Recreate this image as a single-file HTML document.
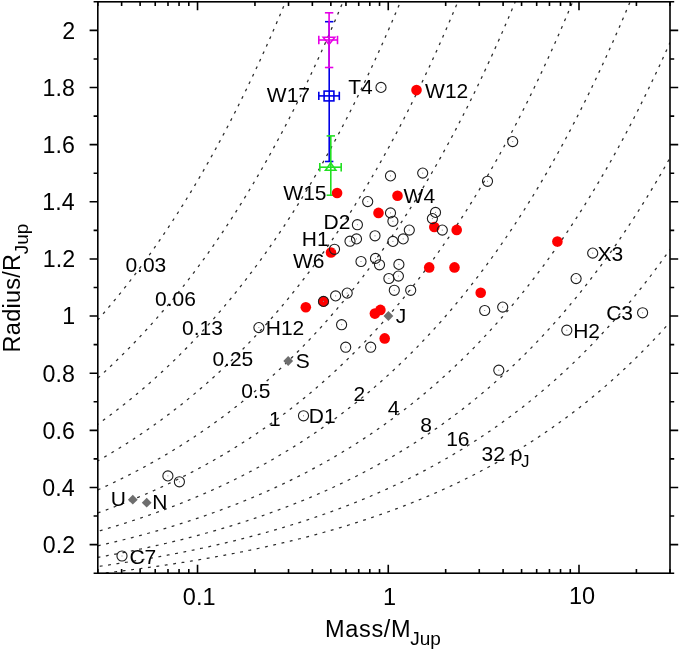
<!DOCTYPE html>
<html><head><meta charset="utf-8"><title>Mass-radius diagram</title><style>html,body{margin:0;padding:0;background:#fff;}svg{display:block;}</style></head><body>
<svg width="680" height="649" viewBox="0 0 680 649" font-family='"Liberation Sans", Arial, Helvetica, sans-serif'>
<rect width="680" height="649" fill="#fff"/>
<defs><clipPath id="pa"><rect x="97.8" y="1.8" width="572.2" height="571.4000000000001"/></clipPath></defs>
<g clip-path="url(#pa)"><g transform="scale(8.50,8.19)" fill="none" stroke="#2c2c2c" stroke-width="0.15" stroke-dasharray="0.34 0.66">
<path stroke-dashoffset="0.035" d="M11.506,39.064 L11.543,39.020 L11.580,38.977 L11.616,38.933 L11.653,38.890 L11.690,38.846 L11.727,38.803 L11.764,38.759 L11.800,38.715 L11.837,38.671 L11.874,38.628 L11.911,38.584 L11.948,38.540 L11.984,38.496 L12.021,38.452 L12.058,38.407 L12.095,38.363 L12.132,38.319 L12.169,38.275 L12.205,38.230 L12.242,38.186 L12.279,38.142 L12.316,38.097 L12.353,38.052 L12.389,38.008 L12.426,37.963 L12.463,37.918 L12.500,37.874 L12.537,37.829 L12.574,37.784 L12.610,37.739 L12.647,37.694 L12.684,37.649 L12.721,37.604 L12.758,37.558 L12.794,37.513 L12.831,37.468 L12.868,37.422 L12.905,37.377 L12.942,37.331 L12.978,37.286 L13.015,37.240 L13.052,37.195 L13.089,37.149 L13.126,37.103 L13.163,37.057 L13.199,37.011 L13.236,36.965 L13.273,36.919 L13.310,36.873 L13.347,36.827 L13.383,36.781 L13.420,36.735 L13.457,36.689 L13.494,36.642 L13.531,36.596 L13.568,36.549 L13.604,36.503 L13.641,36.456 L13.678,36.410 L13.715,36.363 L13.752,36.316 L13.788,36.269 L13.825,36.222 L13.862,36.175 L13.899,36.128 L13.936,36.081 L13.972,36.034 L14.009,35.987 L14.046,35.940 L14.083,35.893 L14.120,35.845 L14.157,35.798 L14.193,35.750 L14.230,35.703 L14.267,35.655 L14.304,35.608 L14.341,35.560 L14.377,35.512 L14.414,35.464 L14.451,35.416 L14.488,35.368 L14.525,35.320 L14.562,35.272 L14.598,35.224 L14.635,35.176 L14.672,35.128 L14.709,35.079 L14.746,35.031 L14.782,34.983 L14.819,34.934 L14.856,34.885 L14.893,34.837 L14.930,34.788 L14.966,34.739 L15.003,34.691 L15.040,34.642 L15.077,34.593 L15.114,34.544 L15.151,34.495 L15.187,34.446 L15.224,34.396 L15.261,34.347 L15.298,34.298 L15.335,34.249 L15.371,34.199 L15.408,34.150 L15.445,34.100 L15.482,34.050 L15.519,34.001 L15.556,33.951 L15.592,33.901 L15.629,33.851 L15.666,33.801 L15.703,33.751 L15.740,33.701 L15.776,33.651 L15.813,33.601 L15.850,33.551 L15.887,33.501 L15.924,33.450 L15.960,33.400 L15.997,33.349 L16.034,33.299 L16.071,33.248 L16.108,33.197 L16.145,33.147 L16.181,33.096 L16.218,33.045 L16.255,32.994 L16.292,32.943 L16.329,32.892 L16.365,32.841 L16.402,32.790 L16.439,32.738 L16.476,32.687 L16.513,32.636 L16.550,32.584 L16.586,32.533 L16.623,32.481 L16.660,32.429 L16.697,32.378 L16.734,32.326 L16.770,32.274 L16.807,32.222 L16.844,32.170 L16.881,32.118 L16.918,32.066 L16.954,32.014 L16.991,31.961 L17.028,31.909 L17.065,31.857 L17.102,31.804 L17.139,31.752 L17.175,31.699 L17.212,31.647 L17.249,31.594 L17.286,31.541 L17.323,31.488 L17.359,31.435 L17.396,31.382 L17.433,31.329 L17.470,31.276 L17.507,31.223 L17.544,31.170 L17.580,31.117 L17.617,31.063 L17.654,31.010 L17.691,30.956 L17.728,30.903 L17.764,30.849 L17.801,30.795 L17.838,30.742 L17.875,30.688 L17.912,30.634 L17.948,30.580 L17.985,30.526 L18.022,30.472 L18.059,30.417 L18.096,30.363 L18.133,30.309 L18.169,30.254 L18.206,30.200 L18.243,30.145 L18.280,30.091 L18.317,30.036 L18.353,29.981 L18.390,29.927 L18.427,29.872 L18.464,29.817 L18.501,29.762 L18.538,29.707 L18.574,29.652 L18.611,29.596 L18.648,29.541 L18.685,29.486 L18.722,29.430 L18.758,29.375 L18.795,29.319 L18.832,29.264 L18.869,29.208 L18.906,29.152 L18.942,29.096 L18.979,29.040 L19.016,28.984 L19.053,28.928 L19.090,28.872 L19.127,28.816 L19.163,28.760 L19.200,28.703 L19.237,28.647 L19.274,28.590 L19.311,28.534 L19.347,28.477 L19.384,28.421 L19.421,28.364 L19.458,28.307 L19.495,28.250 L19.532,28.193 L19.568,28.136 L19.605,28.079 L19.642,28.022 L19.679,27.964 L19.716,27.907 L19.752,27.850 L19.789,27.792 L19.826,27.735 L19.863,27.677 L19.900,27.619 L19.936,27.561 L19.973,27.504 L20.010,27.446 L20.047,27.388 L20.084,27.330 L20.121,27.271 L20.157,27.213 L20.194,27.155 L20.231,27.097 L20.268,27.038 L20.305,26.980 L20.341,26.921 L20.378,26.862 L20.415,26.804 L20.452,26.745 L20.489,26.686 L20.526,26.627 L20.562,26.568 L20.599,26.509 L20.636,26.450 L20.673,26.390 L20.710,26.331 L20.746,26.272 L20.783,26.212 L20.820,26.153 L20.857,26.093 L20.894,26.033 L20.930,25.973 L20.967,25.914 L21.004,25.854 L21.041,25.794 L21.078,25.734 L21.115,25.673 L21.151,25.613 L21.188,25.553 L21.225,25.493 L21.262,25.432 L21.299,25.372 L21.335,25.311 L21.372,25.250 L21.409,25.189 L21.446,25.129 L21.483,25.068 L21.520,25.007 L21.556,24.946 L21.593,24.884 L21.630,24.823 L21.667,24.762 L21.704,24.701 L21.740,24.639 L21.777,24.578 L21.814,24.516 L21.851,24.454 L21.888,24.392 L21.924,24.331 L21.961,24.269 L21.998,24.207 L22.035,24.145 L22.072,24.082 L22.109,24.020 L22.145,23.958 L22.182,23.896 L22.219,23.833 L22.256,23.770 L22.293,23.708 L22.329,23.645 L22.366,23.582 L22.403,23.519 L22.440,23.457 L22.477,23.394 L22.513,23.330 L22.550,23.267 L22.587,23.204 L22.624,23.141 L22.661,23.077 L22.698,23.014 L22.734,22.950 L22.771,22.886 L22.808,22.823 L22.845,22.759 L22.882,22.695 L22.918,22.631 L22.955,22.567 L22.992,22.503 L23.029,22.439 L23.066,22.374 L23.103,22.310 L23.139,22.245 L23.176,22.181 L23.213,22.116 L23.250,22.051 L23.287,21.987 L23.323,21.922 L23.360,21.857 L23.397,21.792 L23.434,21.727 L23.471,21.661 L23.507,21.596 L23.544,21.531 L23.581,21.465 L23.618,21.400 L23.655,21.334 L23.692,21.268 L23.728,21.203 L23.765,21.137 L23.802,21.071 L23.839,21.005 L23.876,20.939 L23.912,20.873 L23.949,20.806 L23.986,20.740 L24.023,20.673 L24.060,20.607 L24.097,20.540 L24.133,20.474 L24.170,20.407 L24.207,20.340 L24.244,20.273 L24.281,20.206 L24.317,20.139 L24.354,20.072 L24.391,20.004 L24.428,19.937 L24.465,19.869 L24.501,19.802 L24.538,19.734 L24.575,19.667 L24.612,19.599 L24.649,19.531 L24.686,19.463 L24.722,19.395 L24.759,19.327 L24.796,19.259 L24.833,19.190 L24.870,19.122 L24.906,19.053 L24.943,18.985 L24.980,18.916 L25.017,18.847 L25.054,18.778 L25.091,18.710 L25.127,18.641 L25.164,18.571 L25.201,18.502 L25.238,18.433 L25.275,18.364 L25.311,18.294 L25.348,18.225 L25.385,18.155 L25.422,18.085 L25.459,18.016 L25.495,17.946 L25.532,17.876 L25.569,17.806 L25.606,17.735 L25.643,17.665 L25.680,17.595 L25.716,17.525 L25.753,17.454 L25.790,17.383 L25.827,17.313 L25.864,17.242 L25.900,17.171 L25.937,17.100 L25.974,17.029 L26.011,16.958 L26.048,16.887 L26.085,16.816 L26.121,16.744 L26.158,16.673 L26.195,16.601 L26.232,16.529 L26.269,16.458 L26.305,16.386 L26.342,16.314 L26.379,16.242 L26.416,16.170 L26.453,16.098 L26.489,16.025 L26.526,15.953 L26.563,15.880 L26.600,15.808 L26.637,15.735 L26.674,15.662 L26.710,15.589 L26.747,15.517 L26.784,15.444 L26.821,15.370 L26.858,15.297 L26.894,15.224 L26.931,15.150 L26.968,15.077 L27.005,15.003 L27.042,14.930 L27.079,14.856 L27.115,14.782 L27.152,14.708 L27.189,14.634 L27.226,14.560 L27.263,14.486 L27.299,14.411 L27.336,14.337 L27.373,14.262 L27.410,14.188 L27.447,14.113 L27.483,14.038 L27.520,13.963 L27.557,13.888 L27.594,13.813 L27.631,13.738 L27.668,13.663 L27.704,13.588 L27.741,13.512 L27.778,13.437 L27.815,13.361 L27.852,13.285 L27.888,13.209 L27.925,13.133 L27.962,13.057 L27.999,12.981 L28.036,12.905 L28.073,12.829 L28.109,12.752 L28.146,12.676 L28.183,12.599 L28.220,12.522 L28.257,12.446 L28.293,12.369 L28.330,12.292 L28.367,12.215 L28.404,12.137 L28.441,12.060 L28.477,11.983 L28.514,11.905 L28.551,11.828 L28.588,11.750 L28.625,11.672 L28.662,11.594 L28.698,11.516 L28.735,11.438 L28.772,11.360 L28.809,11.282 L28.846,11.203 L28.882,11.125 L28.919,11.046 L28.956,10.968 L28.993,10.889 L29.030,10.810 L29.067,10.731 L29.103,10.652 L29.140,10.573 L29.177,10.494 L29.214,10.414 L29.251,10.335 L29.287,10.255 L29.324,10.176 L29.361,10.096 L29.398,10.016 L29.435,9.936 L29.471,9.856 L29.508,9.776 L29.545,9.696 L29.582,9.615 L29.619,9.535 L29.656,9.454 L29.692,9.374 L29.729,9.293 L29.766,9.212 L29.803,9.131 L29.840,9.050 L29.876,8.969 L29.913,8.887 L29.950,8.806 L29.987,8.724 L30.024,8.643 L30.061,8.561 L30.097,8.479 L30.134,8.398 L30.171,8.316 L30.208,8.233 L30.245,8.151 L30.281,8.069 L30.318,7.986 L30.355,7.904 L30.392,7.821 L30.429,7.739 L30.465,7.656 L30.502,7.573 L30.539,7.490 L30.576,7.407 L30.613,7.323 L30.650,7.240 L30.686,7.157 L30.723,7.073 L30.760,6.989 L30.797,6.906 L30.834,6.822 L30.870,6.738 L30.907,6.654 L30.944,6.569 L30.981,6.485 L31.018,6.401 L31.055,6.316 L31.091,6.232 L31.128,6.147 L31.165,6.062 L31.202,5.977 L31.239,5.892 L31.275,5.807 L31.312,5.722 L31.349,5.636 L31.386,5.551 L31.423,5.465 L31.459,5.379 L31.496,5.294 L31.533,5.208 L31.570,5.122 L31.607,5.036 L31.644,4.949 L31.680,4.863 L31.717,4.777 L31.754,4.690 L31.791,4.603 L31.828,4.516 L31.864,4.430 L31.901,4.343 L31.938,4.255 L31.975,4.168 L32.012,4.081 L32.049,3.994 L32.085,3.906 L32.122,3.818 L32.159,3.731 L32.196,3.643 L32.233,3.555 L32.269,3.467 L32.306,3.378 L32.343,3.290 L32.380,3.202 L32.417,3.113 L32.453,3.024 L32.490,2.936 L32.527,2.847 L32.564,2.758 L32.601,2.669 L32.638,2.579 L32.674,2.490 L32.711,2.401 L32.748,2.311 L32.785,2.221 L32.822,2.132 L32.858,2.042 L32.895,1.952 L32.932,1.862 L32.969,1.771 L33.006,1.681 L33.043,1.591 L33.079,1.500 L33.116,1.409 L33.153,1.318 L33.190,1.228 L33.227,1.136 L33.263,1.045 L33.300,0.954 L33.337,0.863 L33.374,0.771 L33.411,0.680 L33.447,0.588 L33.484,0.496 L33.521,0.404 L33.558,0.312 L33.595,0.220"/>
<path stroke-dashoffset="0.995" d="M11.506,46.163 L11.554,46.118 L11.602,46.073 L11.650,46.028 L11.698,45.983 L11.746,45.937 L11.794,45.892 L11.842,45.847 L11.890,45.801 L11.939,45.756 L11.987,45.710 L12.035,45.664 L12.083,45.619 L12.131,45.573 L12.179,45.527 L12.227,45.481 L12.275,45.435 L12.323,45.389 L12.371,45.342 L12.419,45.296 L12.467,45.250 L12.515,45.203 L12.563,45.157 L12.612,45.110 L12.660,45.064 L12.708,45.017 L12.756,44.970 L12.804,44.923 L12.852,44.876 L12.900,44.829 L12.948,44.782 L12.996,44.735 L13.044,44.687 L13.092,44.640 L13.140,44.592 L13.188,44.545 L13.237,44.497 L13.285,44.450 L13.333,44.402 L13.381,44.354 L13.429,44.306 L13.477,44.258 L13.525,44.210 L13.573,44.162 L13.621,44.114 L13.669,44.065 L13.717,44.017 L13.765,43.968 L13.813,43.920 L13.861,43.871 L13.910,43.822 L13.958,43.774 L14.006,43.725 L14.054,43.676 L14.102,43.627 L14.150,43.578 L14.198,43.528 L14.246,43.479 L14.294,43.430 L14.342,43.380 L14.390,43.331 L14.438,43.281 L14.486,43.232 L14.534,43.182 L14.583,43.132 L14.631,43.082 L14.679,43.032 L14.727,42.982 L14.775,42.932 L14.823,42.881 L14.871,42.831 L14.919,42.781 L14.967,42.730 L15.015,42.679 L15.063,42.629 L15.111,42.578 L15.159,42.527 L15.207,42.476 L15.256,42.425 L15.304,42.374 L15.352,42.323 L15.400,42.272 L15.448,42.220 L15.496,42.169 L15.544,42.117 L15.592,42.066 L15.640,42.014 L15.688,41.962 L15.736,41.910 L15.784,41.859 L15.832,41.806 L15.881,41.754 L15.929,41.702 L15.977,41.650 L16.025,41.597 L16.073,41.545 L16.121,41.492 L16.169,41.440 L16.217,41.387 L16.265,41.334 L16.313,41.281 L16.361,41.228 L16.409,41.175 L16.457,41.122 L16.505,41.069 L16.554,41.016 L16.602,40.962 L16.650,40.909 L16.698,40.855 L16.746,40.801 L16.794,40.748 L16.842,40.694 L16.890,40.640 L16.938,40.586 L16.986,40.532 L17.034,40.477 L17.082,40.423 L17.130,40.369 L17.178,40.314 L17.227,40.260 L17.275,40.205 L17.323,40.150 L17.371,40.095 L17.419,40.041 L17.467,39.985 L17.515,39.930 L17.563,39.875 L17.611,39.820 L17.659,39.764 L17.707,39.709 L17.755,39.653 L17.803,39.598 L17.852,39.542 L17.900,39.486 L17.948,39.430 L17.996,39.374 L18.044,39.318 L18.092,39.262 L18.140,39.206 L18.188,39.149 L18.236,39.093 L18.284,39.036 L18.332,38.979 L18.380,38.923 L18.428,38.866 L18.476,38.809 L18.525,38.752 L18.573,38.695 L18.621,38.637 L18.669,38.580 L18.717,38.523 L18.765,38.465 L18.813,38.407 L18.861,38.350 L18.909,38.292 L18.957,38.234 L19.005,38.176 L19.053,38.118 L19.101,38.060 L19.149,38.002 L19.198,37.943 L19.246,37.885 L19.294,37.826 L19.342,37.767 L19.390,37.709 L19.438,37.650 L19.486,37.591 L19.534,37.532 L19.582,37.473 L19.630,37.413 L19.678,37.354 L19.726,37.295 L19.774,37.235 L19.822,37.175 L19.871,37.116 L19.919,37.056 L19.967,36.996 L20.015,36.936 L20.063,36.876 L20.111,36.815 L20.159,36.755 L20.207,36.695 L20.255,36.634 L20.303,36.574 L20.351,36.513 L20.399,36.452 L20.447,36.391 L20.496,36.330 L20.544,36.269 L20.592,36.208 L20.640,36.146 L20.688,36.085 L20.736,36.023 L20.784,35.962 L20.832,35.900 L20.880,35.838 L20.928,35.776 L20.976,35.714 L21.024,35.652 L21.072,35.590 L21.120,35.527 L21.169,35.465 L21.217,35.402 L21.265,35.340 L21.313,35.277 L21.361,35.214 L21.409,35.151 L21.457,35.088 L21.505,35.025 L21.553,34.962 L21.601,34.898 L21.649,34.835 L21.697,34.771 L21.745,34.708 L21.793,34.644 L21.842,34.580 L21.890,34.516 L21.938,34.452 L21.986,34.387 L22.034,34.323 L22.082,34.259 L22.130,34.194 L22.178,34.130 L22.226,34.065 L22.274,34.000 L22.322,33.935 L22.370,33.870 L22.418,33.805 L22.467,33.739 L22.515,33.674 L22.563,33.608 L22.611,33.543 L22.659,33.477 L22.707,33.411 L22.755,33.345 L22.803,33.279 L22.851,33.213 L22.899,33.147 L22.947,33.081 L22.995,33.014 L23.043,32.948 L23.091,32.881 L23.140,32.814 L23.188,32.747 L23.236,32.680 L23.284,32.613 L23.332,32.546 L23.380,32.478 L23.428,32.411 L23.476,32.343 L23.524,32.276 L23.572,32.208 L23.620,32.140 L23.668,32.072 L23.716,32.004 L23.764,31.935 L23.813,31.867 L23.861,31.799 L23.909,31.730 L23.957,31.661 L24.005,31.593 L24.053,31.524 L24.101,31.455 L24.149,31.385 L24.197,31.316 L24.245,31.247 L24.293,31.177 L24.341,31.108 L24.389,31.038 L24.437,30.968 L24.486,30.898 L24.534,30.828 L24.582,30.758 L24.630,30.688 L24.678,30.617 L24.726,30.547 L24.774,30.476 L24.822,30.405 L24.870,30.334 L24.918,30.263 L24.966,30.192 L25.014,30.121 L25.062,30.050 L25.111,29.978 L25.159,29.907 L25.207,29.835 L25.255,29.763 L25.303,29.691 L25.351,29.619 L25.399,29.547 L25.447,29.475 L25.495,29.402 L25.543,29.330 L25.591,29.257 L25.639,29.184 L25.687,29.111 L25.735,29.038 L25.784,28.965 L25.832,28.892 L25.880,28.819 L25.928,28.745 L25.976,28.671 L26.024,28.598 L26.072,28.524 L26.120,28.450 L26.168,28.376 L26.216,28.302 L26.264,28.227 L26.312,28.153 L26.360,28.078 L26.408,28.003 L26.457,27.929 L26.505,27.854 L26.553,27.779 L26.601,27.703 L26.649,27.628 L26.697,27.553 L26.745,27.477 L26.793,27.401 L26.841,27.326 L26.889,27.250 L26.937,27.174 L26.985,27.097 L27.033,27.021 L27.082,26.945 L27.130,26.868 L27.178,26.791 L27.226,26.714 L27.274,26.637 L27.322,26.560 L27.370,26.483 L27.418,26.406 L27.466,26.328 L27.514,26.251 L27.562,26.173 L27.610,26.095 L27.658,26.017 L27.706,25.939 L27.755,25.861 L27.803,25.783 L27.851,25.704 L27.899,25.625 L27.947,25.547 L27.995,25.468 L28.043,25.389 L28.091,25.310 L28.139,25.230 L28.187,25.151 L28.235,25.072 L28.283,24.992 L28.331,24.912 L28.379,24.832 L28.428,24.752 L28.476,24.672 L28.524,24.592 L28.572,24.511 L28.620,24.431 L28.668,24.350 L28.716,24.269 L28.764,24.188 L28.812,24.107 L28.860,24.026 L28.908,23.944 L28.956,23.863 L29.004,23.781 L29.052,23.699 L29.101,23.617 L29.149,23.535 L29.197,23.453 L29.245,23.371 L29.293,23.288 L29.341,23.206 L29.389,23.123 L29.437,23.040 L29.485,22.957 L29.533,22.874 L29.581,22.791 L29.629,22.707 L29.677,22.624 L29.726,22.540 L29.774,22.456 L29.822,22.372 L29.870,22.288 L29.918,22.204 L29.966,22.120 L30.014,22.035 L30.062,21.950 L30.110,21.866 L30.158,21.781 L30.206,21.696 L30.254,21.610 L30.302,21.525 L30.350,21.440 L30.399,21.354 L30.447,21.268 L30.495,21.182 L30.543,21.096 L30.591,21.010 L30.639,20.924 L30.687,20.837 L30.735,20.751 L30.783,20.664 L30.831,20.577 L30.879,20.490 L30.927,20.403 L30.975,20.315 L31.023,20.228 L31.072,20.140 L31.120,20.052 L31.168,19.965 L31.216,19.876 L31.264,19.788 L31.312,19.700 L31.360,19.611 L31.408,19.523 L31.456,19.434 L31.504,19.345 L31.552,19.256 L31.600,19.167 L31.648,19.077 L31.697,18.988 L31.745,18.898 L31.793,18.808 L31.841,18.718 L31.889,18.628 L31.937,18.538 L31.985,18.448 L32.033,18.357 L32.081,18.266 L32.129,18.175 L32.177,18.084 L32.225,17.993 L32.273,17.902 L32.321,17.811 L32.370,17.719 L32.418,17.627 L32.466,17.535 L32.514,17.443 L32.562,17.351 L32.610,17.259 L32.658,17.166 L32.706,17.073 L32.754,16.981 L32.802,16.888 L32.850,16.794 L32.898,16.701 L32.946,16.608 L32.994,16.514 L33.043,16.420 L33.091,16.327 L33.139,16.233 L33.187,16.138 L33.235,16.044 L33.283,15.949 L33.331,15.855 L33.379,15.760 L33.427,15.665 L33.475,15.570 L33.523,15.475 L33.571,15.379 L33.619,15.283 L33.667,15.188 L33.716,15.092 L33.764,14.996 L33.812,14.899 L33.860,14.803 L33.908,14.706 L33.956,14.610 L34.004,14.513 L34.052,14.416 L34.100,14.319 L34.148,14.221 L34.196,14.124 L34.244,14.026 L34.292,13.928 L34.341,13.830 L34.389,13.732 L34.437,13.634 L34.485,13.535 L34.533,13.437 L34.581,13.338 L34.629,13.239 L34.677,13.140 L34.725,13.040 L34.773,12.941 L34.821,12.841 L34.869,12.742 L34.917,12.642 L34.965,12.542 L35.014,12.441 L35.062,12.341 L35.110,12.240 L35.158,12.139 L35.206,12.039 L35.254,11.937 L35.302,11.836 L35.350,11.735 L35.398,11.633 L35.446,11.531 L35.494,11.429 L35.542,11.327 L35.590,11.225 L35.638,11.123 L35.687,11.020 L35.735,10.917 L35.783,10.814 L35.831,10.711 L35.879,10.608 L35.927,10.504 L35.975,10.401 L36.023,10.297 L36.071,10.193 L36.119,10.089 L36.167,9.984 L36.215,9.880 L36.263,9.775 L36.311,9.670 L36.360,9.565 L36.408,9.460 L36.456,9.355 L36.504,9.249 L36.552,9.144 L36.600,9.038 L36.648,8.932 L36.696,8.826 L36.744,8.719 L36.792,8.613 L36.840,8.506 L36.888,8.399 L36.936,8.292 L36.985,8.185 L37.033,8.077 L37.081,7.970 L37.129,7.862 L37.177,7.754 L37.225,7.646 L37.273,7.537 L37.321,7.429 L37.369,7.320 L37.417,7.211 L37.465,7.102 L37.513,6.993 L37.561,6.883 L37.609,6.774 L37.658,6.664 L37.706,6.554 L37.754,6.444 L37.802,6.334 L37.850,6.223 L37.898,6.113 L37.946,6.002 L37.994,5.891 L38.042,5.779 L38.090,5.668 L38.138,5.556 L38.186,5.445 L38.234,5.333 L38.282,5.221 L38.331,5.108 L38.379,4.996 L38.427,4.883 L38.475,4.770 L38.523,4.657 L38.571,4.544 L38.619,4.430 L38.667,4.317 L38.715,4.203 L38.763,4.089 L38.811,3.975 L38.859,3.860 L38.907,3.746 L38.956,3.631 L39.004,3.516 L39.052,3.401 L39.100,3.286 L39.148,3.170 L39.196,3.054 L39.244,2.939 L39.292,2.822 L39.340,2.706 L39.388,2.590 L39.436,2.473 L39.484,2.356 L39.532,2.239 L39.580,2.122 L39.629,2.005 L39.677,1.887 L39.725,1.769 L39.773,1.651 L39.821,1.533 L39.869,1.415 L39.917,1.296 L39.965,1.177 L40.013,1.058 L40.061,0.939 L40.109,0.820 L40.157,0.700 L40.205,0.580 L40.253,0.460 L40.302,0.340 L40.350,0.220"/>
<path stroke-dashoffset="0.255" d="M11.506,51.798 L11.565,51.754 L11.625,51.709 L11.684,51.665 L11.743,51.621 L11.803,51.577 L11.862,51.532 L11.921,51.487 L11.981,51.443 L12.040,51.398 L12.099,51.353 L12.159,51.308 L12.218,51.263 L12.277,51.218 L12.337,51.173 L12.396,51.128 L12.455,51.082 L12.515,51.037 L12.574,50.991 L12.633,50.945 L12.693,50.900 L12.752,50.854 L12.811,50.808 L12.870,50.762 L12.930,50.716 L12.989,50.669 L13.048,50.623 L13.108,50.577 L13.167,50.530 L13.226,50.484 L13.286,50.437 L13.345,50.390 L13.404,50.343 L13.464,50.296 L13.523,50.249 L13.582,50.202 L13.642,50.155 L13.701,50.107 L13.760,50.060 L13.820,50.012 L13.879,49.964 L13.938,49.917 L13.998,49.869 L14.057,49.821 L14.116,49.773 L14.176,49.725 L14.235,49.676 L14.294,49.628 L14.354,49.580 L14.413,49.531 L14.472,49.482 L14.532,49.434 L14.591,49.385 L14.650,49.336 L14.710,49.287 L14.769,49.238 L14.828,49.189 L14.888,49.139 L14.947,49.090 L15.006,49.040 L15.066,48.991 L15.125,48.941 L15.184,48.891 L15.244,48.841 L15.303,48.791 L15.362,48.741 L15.422,48.691 L15.481,48.640 L15.540,48.590 L15.600,48.539 L15.659,48.489 L15.718,48.438 L15.778,48.387 L15.837,48.336 L15.896,48.285 L15.956,48.234 L16.015,48.182 L16.074,48.131 L16.134,48.080 L16.193,48.028 L16.252,47.976 L16.312,47.924 L16.371,47.873 L16.430,47.821 L16.490,47.768 L16.549,47.716 L16.608,47.664 L16.668,47.611 L16.727,47.559 L16.786,47.506 L16.846,47.453 L16.905,47.401 L16.964,47.348 L17.024,47.295 L17.083,47.241 L17.142,47.188 L17.202,47.135 L17.261,47.081 L17.320,47.028 L17.380,46.974 L17.439,46.920 L17.498,46.866 L17.558,46.812 L17.617,46.758 L17.676,46.704 L17.736,46.649 L17.795,46.595 L17.854,46.540 L17.914,46.485 L17.973,46.430 L18.032,46.376 L18.092,46.320 L18.151,46.265 L18.210,46.210 L18.270,46.155 L18.329,46.099 L18.388,46.044 L18.448,45.988 L18.507,45.932 L18.566,45.876 L18.626,45.820 L18.685,45.764 L18.744,45.707 L18.804,45.651 L18.863,45.595 L18.922,45.538 L18.982,45.481 L19.041,45.424 L19.100,45.367 L19.160,45.310 L19.219,45.253 L19.278,45.196 L19.338,45.138 L19.397,45.081 L19.456,45.023 L19.516,44.965 L19.575,44.907 L19.634,44.849 L19.694,44.791 L19.753,44.733 L19.812,44.674 L19.872,44.616 L19.931,44.557 L19.990,44.498 L20.050,44.440 L20.109,44.381 L20.168,44.321 L20.228,44.262 L20.287,44.203 L20.346,44.143 L20.406,44.084 L20.465,44.024 L20.524,43.964 L20.584,43.904 L20.643,43.844 L20.702,43.784 L20.762,43.724 L20.821,43.663 L20.880,43.603 L20.940,43.542 L20.999,43.481 L21.058,43.420 L21.118,43.359 L21.177,43.298 L21.236,43.237 L21.296,43.175 L21.355,43.114 L21.414,43.052 L21.473,42.990 L21.533,42.928 L21.592,42.866 L21.651,42.804 L21.711,42.742 L21.770,42.679 L21.829,42.617 L21.889,42.554 L21.948,42.491 L22.007,42.428 L22.067,42.365 L22.126,42.302 L22.185,42.239 L22.245,42.175 L22.304,42.112 L22.363,42.048 L22.423,41.984 L22.482,41.920 L22.541,41.856 L22.601,41.792 L22.660,41.728 L22.719,41.663 L22.779,41.598 L22.838,41.534 L22.897,41.469 L22.957,41.404 L23.016,41.339 L23.075,41.273 L23.135,41.208 L23.194,41.142 L23.253,41.077 L23.313,41.011 L23.372,40.945 L23.431,40.879 L23.491,40.813 L23.550,40.746 L23.609,40.680 L23.669,40.613 L23.728,40.546 L23.787,40.479 L23.847,40.412 L23.906,40.345 L23.965,40.278 L24.025,40.210 L24.084,40.143 L24.143,40.075 L24.203,40.007 L24.262,39.939 L24.321,39.871 L24.381,39.803 L24.440,39.735 L24.499,39.666 L24.559,39.597 L24.618,39.528 L24.677,39.460 L24.737,39.390 L24.796,39.321 L24.855,39.252 L24.915,39.182 L24.974,39.113 L25.033,39.043 L25.093,38.973 L25.152,38.903 L25.211,38.833 L25.271,38.762 L25.330,38.692 L25.389,38.621 L25.449,38.550 L25.508,38.479 L25.567,38.408 L25.627,38.337 L25.686,38.265 L25.745,38.194 L25.805,38.122 L25.864,38.050 L25.923,37.978 L25.983,37.906 L26.042,37.834 L26.101,37.762 L26.161,37.689 L26.220,37.616 L26.279,37.544 L26.339,37.471 L26.398,37.397 L26.457,37.324 L26.517,37.251 L26.576,37.177 L26.635,37.103 L26.695,37.030 L26.754,36.955 L26.813,36.881 L26.873,36.807 L26.932,36.732 L26.991,36.658 L27.051,36.583 L27.110,36.508 L27.169,36.433 L27.229,36.358 L27.288,36.282 L27.347,36.207 L27.407,36.131 L27.466,36.055 L27.525,35.979 L27.585,35.903 L27.644,35.827 L27.703,35.750 L27.763,35.674 L27.822,35.597 L27.881,35.520 L27.941,35.443 L28.000,35.365 L28.059,35.288 L28.119,35.210 L28.178,35.133 L28.237,35.055 L28.297,34.977 L28.356,34.899 L28.415,34.820 L28.475,34.742 L28.534,34.663 L28.593,34.584 L28.653,34.505 L28.712,34.426 L28.771,34.347 L28.831,34.267 L28.890,34.187 L28.949,34.108 L29.009,34.028 L29.068,33.948 L29.127,33.867 L29.187,33.787 L29.246,33.706 L29.305,33.625 L29.365,33.544 L29.424,33.463 L29.483,33.382 L29.543,33.301 L29.602,33.219 L29.661,33.137 L29.721,33.055 L29.780,32.973 L29.839,32.891 L29.899,32.808 L29.958,32.726 L30.017,32.643 L30.076,32.560 L30.136,32.477 L30.195,32.394 L30.254,32.310 L30.314,32.226 L30.373,32.143 L30.432,32.059 L30.492,31.975 L30.551,31.890 L30.610,31.806 L30.670,31.721 L30.729,31.636 L30.788,31.551 L30.848,31.466 L30.907,31.381 L30.966,31.295 L31.026,31.210 L31.085,31.124 L31.144,31.038 L31.204,30.951 L31.263,30.865 L31.322,30.779 L31.382,30.692 L31.441,30.605 L31.500,30.518 L31.560,30.431 L31.619,30.343 L31.678,30.255 L31.738,30.168 L31.797,30.080 L31.856,29.992 L31.916,29.903 L31.975,29.815 L32.034,29.726 L32.094,29.637 L32.153,29.548 L32.212,29.459 L32.272,29.369 L32.331,29.280 L32.390,29.190 L32.450,29.100 L32.509,29.010 L32.568,28.920 L32.628,28.829 L32.687,28.738 L32.746,28.647 L32.806,28.556 L32.865,28.465 L32.924,28.374 L32.984,28.282 L33.043,28.190 L33.102,28.098 L33.162,28.006 L33.221,27.914 L33.280,27.821 L33.340,27.728 L33.399,27.635 L33.458,27.542 L33.518,27.449 L33.577,27.356 L33.636,27.262 L33.696,27.168 L33.755,27.074 L33.814,26.980 L33.874,26.885 L33.933,26.790 L33.992,26.696 L34.052,26.601 L34.111,26.505 L34.170,26.410 L34.230,26.314 L34.289,26.219 L34.348,26.123 L34.408,26.026 L34.467,25.930 L34.526,25.833 L34.586,25.737 L34.645,25.640 L34.704,25.542 L34.764,25.445 L34.823,25.347 L34.882,25.250 L34.942,25.152 L35.001,25.054 L35.060,24.955 L35.120,24.857 L35.179,24.758 L35.238,24.659 L35.298,24.560 L35.357,24.460 L35.416,24.361 L35.476,24.261 L35.535,24.161 L35.594,24.061 L35.654,23.960 L35.713,23.860 L35.772,23.759 L35.832,23.658 L35.891,23.557 L35.950,23.455 L36.010,23.354 L36.069,23.252 L36.128,23.150 L36.188,23.048 L36.247,22.945 L36.306,22.843 L36.366,22.740 L36.425,22.637 L36.484,22.533 L36.544,22.430 L36.603,22.326 L36.662,22.222 L36.722,22.118 L36.781,22.014 L36.840,21.909 L36.900,21.805 L36.959,21.700 L37.018,21.594 L37.078,21.489 L37.137,21.383 L37.196,21.278 L37.256,21.172 L37.315,21.065 L37.374,20.959 L37.434,20.852 L37.493,20.745 L37.552,20.638 L37.612,20.531 L37.671,20.423 L37.730,20.315 L37.790,20.207 L37.849,20.099 L37.908,19.991 L37.968,19.882 L38.027,19.773 L38.086,19.664 L38.146,19.555 L38.205,19.445 L38.264,19.336 L38.324,19.226 L38.383,19.115 L38.442,19.005 L38.502,18.894 L38.561,18.783 L38.620,18.672 L38.679,18.561 L38.739,18.449 L38.798,18.338 L38.857,18.226 L38.917,18.113 L38.976,18.001 L39.035,17.888 L39.095,17.775 L39.154,17.662 L39.213,17.549 L39.273,17.435 L39.332,17.321 L39.391,17.207 L39.451,17.093 L39.510,16.978 L39.569,16.864 L39.629,16.749 L39.688,16.633 L39.747,16.518 L39.807,16.402 L39.866,16.286 L39.925,16.170 L39.985,16.054 L40.044,15.937 L40.103,15.820 L40.163,15.703 L40.222,15.586 L40.281,15.468 L40.341,15.350 L40.400,15.232 L40.459,15.114 L40.519,14.995 L40.578,14.876 L40.637,14.757 L40.697,14.638 L40.756,14.519 L40.815,14.399 L40.875,14.279 L40.934,14.158 L40.993,14.038 L41.053,13.917 L41.112,13.796 L41.171,13.675 L41.231,13.554 L41.290,13.432 L41.349,13.310 L41.409,13.188 L41.468,13.065 L41.527,12.942 L41.587,12.819 L41.646,12.696 L41.705,12.573 L41.765,12.449 L41.824,12.325 L41.883,12.201 L41.943,12.076 L42.002,11.952 L42.061,11.827 L42.121,11.701 L42.180,11.576 L42.239,11.450 L42.299,11.324 L42.358,11.198 L42.417,11.071 L42.477,10.945 L42.536,10.818 L42.595,10.690 L42.655,10.563 L42.714,10.435 L42.773,10.307 L42.833,10.179 L42.892,10.050 L42.951,9.921 L43.011,9.792 L43.070,9.663 L43.129,9.533 L43.189,9.403 L43.248,9.273 L43.307,9.142 L43.367,9.012 L43.426,8.881 L43.485,8.750 L43.545,8.618 L43.604,8.486 L43.663,8.354 L43.723,8.222 L43.782,8.089 L43.841,7.957 L43.901,7.824 L43.960,7.690 L44.019,7.557 L44.079,7.423 L44.138,7.288 L44.197,7.154 L44.257,7.019 L44.316,6.884 L44.375,6.749 L44.435,6.613 L44.494,6.478 L44.553,6.341 L44.613,6.205 L44.672,6.068 L44.731,5.931 L44.791,5.794 L44.850,5.657 L44.909,5.519 L44.969,5.381 L45.028,5.243 L45.087,5.104 L45.147,4.965 L45.206,4.826 L45.265,4.686 L45.325,4.547 L45.384,4.407 L45.443,4.266 L45.503,4.126 L45.562,3.985 L45.621,3.844 L45.681,3.702 L45.740,3.561 L45.799,3.419 L45.859,3.276 L45.918,3.134 L45.977,2.991 L46.037,2.847 L46.096,2.704 L46.155,2.560 L46.215,2.416 L46.274,2.272 L46.333,2.127 L46.393,1.982 L46.452,1.837 L46.511,1.691 L46.571,1.546 L46.630,1.400 L46.689,1.253 L46.749,1.106 L46.808,0.959 L46.867,0.812 L46.927,0.664 L46.986,0.517 L47.045,0.368 L47.105,0.220"/>
<path stroke-dashoffset="0.120" d="M11.506,56.270 L11.576,56.228 L11.647,56.187 L11.718,56.145 L11.788,56.103 L11.859,56.061 L11.929,56.019 L12.000,55.977 L12.071,55.934 L12.141,55.892 L12.212,55.849 L12.282,55.807 L12.353,55.764 L12.424,55.721 L12.494,55.678 L12.565,55.635 L12.635,55.592 L12.706,55.549 L12.776,55.506 L12.847,55.462 L12.918,55.419 L12.988,55.375 L13.059,55.331 L13.129,55.287 L13.200,55.243 L13.271,55.199 L13.341,55.155 L13.412,55.111 L13.482,55.066 L13.553,55.022 L13.624,54.977 L13.694,54.933 L13.765,54.888 L13.835,54.843 L13.906,54.798 L13.977,54.753 L14.047,54.707 L14.118,54.662 L14.188,54.617 L14.259,54.571 L14.329,54.525 L14.400,54.479 L14.471,54.434 L14.541,54.387 L14.612,54.341 L14.682,54.295 L14.753,54.249 L14.824,54.202 L14.894,54.156 L14.965,54.109 L15.035,54.062 L15.106,54.015 L15.177,53.968 L15.247,53.921 L15.318,53.874 L15.388,53.826 L15.459,53.779 L15.529,53.731 L15.600,53.683 L15.671,53.636 L15.741,53.588 L15.812,53.540 L15.882,53.491 L15.953,53.443 L16.024,53.395 L16.094,53.346 L16.165,53.297 L16.235,53.249 L16.306,53.200 L16.377,53.151 L16.447,53.102 L16.518,53.052 L16.588,53.003 L16.659,52.953 L16.729,52.904 L16.800,52.854 L16.871,52.804 L16.941,52.754 L17.012,52.704 L17.082,52.654 L17.153,52.604 L17.224,52.553 L17.294,52.503 L17.365,52.452 L17.435,52.401 L17.506,52.350 L17.577,52.299 L17.647,52.248 L17.718,52.197 L17.788,52.145 L17.859,52.094 L17.929,52.042 L18.000,51.990 L18.071,51.938 L18.141,51.886 L18.212,51.834 L18.282,51.782 L18.353,51.729 L18.424,51.677 L18.494,51.624 L18.565,51.571 L18.635,51.518 L18.706,51.465 L18.777,51.412 L18.847,51.358 L18.918,51.305 L18.988,51.251 L19.059,51.198 L19.130,51.144 L19.200,51.090 L19.271,51.036 L19.341,50.981 L19.412,50.927 L19.482,50.873 L19.553,50.818 L19.624,50.763 L19.694,50.708 L19.765,50.653 L19.835,50.598 L19.906,50.543 L19.977,50.487 L20.047,50.432 L20.118,50.376 L20.188,50.320 L20.259,50.264 L20.330,50.208 L20.400,50.152 L20.471,50.095 L20.541,50.039 L20.612,49.982 L20.682,49.925 L20.753,49.869 L20.824,49.811 L20.894,49.754 L20.965,49.697 L21.035,49.639 L21.106,49.582 L21.177,49.524 L21.247,49.466 L21.318,49.408 L21.388,49.350 L21.459,49.292 L21.530,49.233 L21.600,49.175 L21.671,49.116 L21.741,49.057 L21.812,48.998 L21.882,48.939 L21.953,48.879 L22.024,48.820 L22.094,48.760 L22.165,48.701 L22.235,48.641 L22.306,48.581 L22.377,48.520 L22.447,48.460 L22.518,48.400 L22.588,48.339 L22.659,48.278 L22.730,48.217 L22.800,48.156 L22.871,48.095 L22.941,48.034 L23.012,47.972 L23.083,47.911 L23.153,47.849 L23.224,47.787 L23.294,47.725 L23.365,47.662 L23.435,47.600 L23.506,47.537 L23.577,47.475 L23.647,47.412 L23.718,47.349 L23.788,47.286 L23.859,47.222 L23.930,47.159 L24.000,47.095 L24.071,47.032 L24.141,46.968 L24.212,46.904 L24.283,46.839 L24.353,46.775 L24.424,46.710 L24.494,46.646 L24.565,46.581 L24.635,46.516 L24.706,46.451 L24.777,46.385 L24.847,46.320 L24.918,46.254 L24.988,46.188 L25.059,46.122 L25.130,46.056 L25.200,45.990 L25.271,45.924 L25.341,45.857 L25.412,45.790 L25.483,45.723 L25.553,45.656 L25.624,45.589 L25.694,45.521 L25.765,45.454 L25.835,45.386 L25.906,45.318 L25.977,45.250 L26.047,45.182 L26.118,45.114 L26.188,45.045 L26.259,44.976 L26.330,44.907 L26.400,44.838 L26.471,44.769 L26.541,44.700 L26.612,44.630 L26.683,44.560 L26.753,44.490 L26.824,44.420 L26.894,44.350 L26.965,44.280 L27.035,44.209 L27.106,44.138 L27.177,44.068 L27.247,43.996 L27.318,43.925 L27.388,43.854 L27.459,43.782 L27.530,43.710 L27.600,43.638 L27.671,43.566 L27.741,43.494 L27.812,43.421 L27.883,43.349 L27.953,43.276 L28.024,43.203 L28.094,43.130 L28.165,43.056 L28.236,42.983 L28.306,42.909 L28.377,42.835 L28.447,42.761 L28.518,42.687 L28.588,42.613 L28.659,42.538 L28.730,42.463 L28.800,42.388 L28.871,42.313 L28.941,42.238 L29.012,42.162 L29.083,42.086 L29.153,42.011 L29.224,41.935 L29.294,41.858 L29.365,41.782 L29.436,41.705 L29.506,41.628 L29.577,41.551 L29.647,41.474 L29.718,41.397 L29.788,41.319 L29.859,41.242 L29.930,41.164 L30.000,41.086 L30.071,41.007 L30.141,40.929 L30.212,40.850 L30.283,40.771 L30.353,40.692 L30.424,40.613 L30.494,40.533 L30.565,40.454 L30.636,40.374 L30.706,40.294 L30.777,40.214 L30.847,40.133 L30.918,40.053 L30.988,39.972 L31.059,39.891 L31.130,39.810 L31.200,39.728 L31.271,39.647 L31.341,39.565 L31.412,39.483 L31.483,39.401 L31.553,39.318 L31.624,39.236 L31.694,39.153 L31.765,39.070 L31.836,38.987 L31.906,38.904 L31.977,38.820 L32.047,38.736 L32.118,38.652 L32.189,38.568 L32.259,38.484 L32.330,38.399 L32.400,38.314 L32.471,38.229 L32.541,38.144 L32.612,38.059 L32.683,37.973 L32.753,37.887 L32.824,37.801 L32.894,37.715 L32.965,37.629 L33.036,37.542 L33.106,37.455 L33.177,37.368 L33.247,37.281 L33.318,37.193 L33.389,37.105 L33.459,37.018 L33.530,36.929 L33.600,36.841 L33.671,36.752 L33.741,36.664 L33.812,36.575 L33.883,36.486 L33.953,36.396 L34.024,36.306 L34.094,36.217 L34.165,36.127 L34.236,36.036 L34.306,35.946 L34.377,35.855 L34.447,35.764 L34.518,35.673 L34.589,35.582 L34.659,35.490 L34.730,35.398 L34.800,35.306 L34.871,35.214 L34.941,35.121 L35.012,35.029 L35.083,34.936 L35.153,34.842 L35.224,34.749 L35.294,34.655 L35.365,34.562 L35.436,34.467 L35.506,34.373 L35.577,34.279 L35.647,34.184 L35.718,34.089 L35.789,33.994 L35.859,33.898 L35.930,33.803 L36.000,33.707 L36.071,33.611 L36.141,33.514 L36.212,33.418 L36.283,33.321 L36.353,33.224 L36.424,33.126 L36.494,33.029 L36.565,32.931 L36.636,32.833 L36.706,32.735 L36.777,32.636 L36.847,32.538 L36.918,32.439 L36.989,32.339 L37.059,32.240 L37.130,32.140 L37.200,32.040 L37.271,31.940 L37.342,31.840 L37.412,31.739 L37.483,31.638 L37.553,31.537 L37.624,31.436 L37.694,31.334 L37.765,31.232 L37.836,31.130 L37.906,31.028 L37.977,30.925 L38.047,30.822 L38.118,30.719 L38.189,30.616 L38.259,30.512 L38.330,30.408 L38.400,30.304 L38.471,30.200 L38.542,30.095 L38.612,29.990 L38.683,29.885 L38.753,29.780 L38.824,29.674 L38.894,29.568 L38.965,29.462 L39.036,29.356 L39.106,29.249 L39.177,29.142 L39.247,29.035 L39.318,28.928 L39.389,28.820 L39.459,28.712 L39.530,28.604 L39.600,28.495 L39.671,28.386 L39.742,28.277 L39.812,28.168 L39.883,28.059 L39.953,27.949 L40.024,27.839 L40.094,27.729 L40.165,27.618 L40.236,27.507 L40.306,27.396 L40.377,27.285 L40.447,27.173 L40.518,27.061 L40.589,26.949 L40.659,26.836 L40.730,26.724 L40.800,26.611 L40.871,26.497 L40.942,26.384 L41.012,26.270 L41.083,26.156 L41.153,26.041 L41.224,25.927 L41.295,25.812 L41.365,25.696 L41.436,25.581 L41.506,25.465 L41.577,25.349 L41.647,25.233 L41.718,25.116 L41.789,24.999 L41.859,24.882 L41.930,24.765 L42.000,24.647 L42.071,24.529 L42.142,24.410 L42.212,24.292 L42.283,24.173 L42.353,24.054 L42.424,23.934 L42.495,23.815 L42.565,23.694 L42.636,23.574 L42.706,23.453 L42.777,23.333 L42.847,23.211 L42.918,23.090 L42.989,22.968 L43.059,22.846 L43.130,22.724 L43.200,22.601 L43.271,22.478 L43.342,22.355 L43.412,22.231 L43.483,22.107 L43.553,21.983 L43.624,21.858 L43.695,21.734 L43.765,21.609 L43.836,21.483 L43.906,21.358 L43.977,21.232 L44.047,21.105 L44.118,20.979 L44.189,20.852 L44.259,20.725 L44.330,20.597 L44.400,20.469 L44.471,20.341 L44.542,20.213 L44.612,20.084 L44.683,19.955 L44.753,19.825 L44.824,19.696 L44.895,19.566 L44.965,19.435 L45.036,19.305 L45.106,19.174 L45.177,19.042 L45.248,18.911 L45.318,18.779 L45.389,18.647 L45.459,18.514 L45.530,18.381 L45.600,18.248 L45.671,18.115 L45.742,17.981 L45.812,17.847 L45.883,17.712 L45.953,17.577 L46.024,17.442 L46.095,17.307 L46.165,17.171 L46.236,17.035 L46.306,16.898 L46.377,16.762 L46.448,16.625 L46.518,16.487 L46.589,16.349 L46.659,16.211 L46.730,16.073 L46.800,15.934 L46.871,15.795 L46.942,15.656 L47.012,15.516 L47.083,15.376 L47.153,15.235 L47.224,15.094 L47.295,14.953 L47.365,14.812 L47.436,14.670 L47.506,14.528 L47.577,14.385 L47.648,14.242 L47.718,14.099 L47.789,13.956 L47.859,13.812 L47.930,13.668 L48.000,13.523 L48.071,13.378 L48.142,13.233 L48.212,13.087 L48.283,12.941 L48.353,12.795 L48.424,12.648 L48.495,12.501 L48.565,12.354 L48.636,12.206 L48.706,12.058 L48.777,11.909 L48.848,11.761 L48.918,11.611 L48.989,11.462 L49.059,11.312 L49.130,11.162 L49.200,11.011 L49.271,10.860 L49.342,10.709 L49.412,10.557 L49.483,10.405 L49.553,10.252 L49.624,10.099 L49.695,9.946 L49.765,9.793 L49.836,9.639 L49.906,9.484 L49.977,9.330 L50.048,9.175 L50.118,9.019 L50.189,8.863 L50.259,8.707 L50.330,8.551 L50.401,8.394 L50.471,8.236 L50.542,8.079 L50.612,7.921 L50.683,7.762 L50.753,7.603 L50.824,7.444 L50.895,7.284 L50.965,7.124 L51.036,6.964 L51.106,6.803 L51.177,6.642 L51.248,6.480 L51.318,6.318 L51.389,6.156 L51.459,5.993 L51.530,5.830 L51.601,5.667 L51.671,5.503 L51.742,5.338 L51.812,5.174 L51.883,5.009 L51.953,4.843 L52.024,4.677 L52.095,4.511 L52.165,4.344 L52.236,4.177 L52.306,4.010 L52.377,3.842 L52.448,3.673 L52.518,3.505 L52.589,3.335 L52.659,3.166 L52.730,2.996 L52.801,2.825 L52.871,2.655 L52.942,2.483 L53.012,2.312 L53.083,2.140 L53.153,1.967 L53.224,1.794 L53.295,1.621 L53.365,1.448 L53.436,1.273 L53.506,1.099 L53.577,0.924 L53.648,0.748 L53.718,0.573 L53.789,0.396 L53.859,0.220"/>
<path stroke-dashoffset="0.005" d="M11.506,59.820 L11.588,59.781 L11.670,59.743 L11.751,59.704 L11.833,59.666 L11.915,59.627 L11.997,59.588 L12.079,59.549 L12.161,59.510 L12.243,59.471 L12.324,59.432 L12.406,59.392 L12.488,59.353 L12.570,59.313 L12.652,59.274 L12.734,59.234 L12.815,59.194 L12.897,59.154 L12.979,59.114 L13.061,59.073 L13.143,59.033 L13.225,58.993 L13.307,58.952 L13.388,58.911 L13.470,58.870 L13.552,58.830 L13.634,58.788 L13.716,58.747 L13.798,58.706 L13.879,58.665 L13.961,58.623 L14.043,58.581 L14.125,58.540 L14.207,58.498 L14.289,58.456 L14.371,58.414 L14.452,58.371 L14.534,58.329 L14.616,58.287 L14.698,58.244 L14.780,58.201 L14.862,58.159 L14.943,58.116 L15.025,58.073 L15.107,58.029 L15.189,57.986 L15.271,57.943 L15.353,57.899 L15.435,57.855 L15.516,57.812 L15.598,57.768 L15.680,57.724 L15.762,57.679 L15.844,57.635 L15.926,57.591 L16.007,57.546 L16.089,57.502 L16.171,57.457 L16.253,57.412 L16.335,57.367 L16.417,57.322 L16.499,57.276 L16.580,57.231 L16.662,57.185 L16.744,57.140 L16.826,57.094 L16.908,57.048 L16.990,57.002 L17.071,56.956 L17.153,56.909 L17.235,56.863 L17.317,56.816 L17.399,56.770 L17.481,56.723 L17.563,56.676 L17.644,56.629 L17.726,56.582 L17.808,56.534 L17.890,56.487 L17.972,56.439 L18.054,56.391 L18.136,56.343 L18.217,56.295 L18.299,56.247 L18.381,56.199 L18.463,56.151 L18.545,56.102 L18.627,56.053 L18.708,56.004 L18.790,55.955 L18.872,55.906 L18.954,55.857 L19.036,55.808 L19.118,55.758 L19.200,55.708 L19.281,55.659 L19.363,55.609 L19.445,55.559 L19.527,55.508 L19.609,55.458 L19.691,55.407 L19.772,55.357 L19.854,55.306 L19.936,55.255 L20.018,55.204 L20.100,55.153 L20.182,55.101 L20.264,55.050 L20.345,54.998 L20.427,54.946 L20.509,54.894 L20.591,54.842 L20.673,54.790 L20.755,54.738 L20.836,54.685 L20.918,54.633 L21.000,54.580 L21.082,54.527 L21.164,54.474 L21.246,54.420 L21.328,54.367 L21.409,54.313 L21.491,54.260 L21.573,54.206 L21.655,54.152 L21.737,54.098 L21.819,54.043 L21.900,53.989 L21.982,53.934 L22.064,53.879 L22.146,53.824 L22.228,53.769 L22.310,53.714 L22.392,53.659 L22.473,53.603 L22.555,53.547 L22.637,53.492 L22.719,53.435 L22.801,53.379 L22.883,53.323 L22.965,53.266 L23.046,53.210 L23.128,53.153 L23.210,53.096 L23.292,53.039 L23.374,52.982 L23.456,52.924 L23.537,52.867 L23.619,52.809 L23.701,52.751 L23.783,52.693 L23.865,52.634 L23.947,52.576 L24.029,52.517 L24.110,52.459 L24.192,52.400 L24.274,52.341 L24.356,52.281 L24.438,52.222 L24.520,52.162 L24.601,52.103 L24.683,52.043 L24.765,51.983 L24.847,51.922 L24.929,51.862 L25.011,51.801 L25.093,51.741 L25.174,51.680 L25.256,51.619 L25.338,51.557 L25.420,51.496 L25.502,51.434 L25.584,51.372 L25.665,51.310 L25.747,51.248 L25.829,51.186 L25.911,51.123 L25.993,51.061 L26.075,50.998 L26.157,50.935 L26.238,50.872 L26.320,50.808 L26.402,50.745 L26.484,50.681 L26.566,50.617 L26.648,50.553 L26.729,50.489 L26.811,50.424 L26.893,50.360 L26.975,50.295 L27.057,50.230 L27.139,50.165 L27.221,50.099 L27.302,50.034 L27.384,49.968 L27.466,49.902 L27.548,49.836 L27.630,49.770 L27.712,49.703 L27.793,49.637 L27.875,49.570 L27.957,49.503 L28.039,49.436 L28.121,49.368 L28.203,49.301 L28.285,49.233 L28.366,49.165 L28.448,49.097 L28.530,49.029 L28.612,48.960 L28.694,48.891 L28.776,48.822 L28.858,48.753 L28.939,48.684 L29.021,48.614 L29.103,48.545 L29.185,48.475 L29.267,48.405 L29.349,48.334 L29.430,48.264 L29.512,48.193 L29.594,48.122 L29.676,48.051 L29.758,47.980 L29.840,47.909 L29.922,47.837 L30.003,47.765 L30.085,47.693 L30.167,47.621 L30.249,47.548 L30.331,47.475 L30.413,47.403 L30.494,47.329 L30.576,47.256 L30.658,47.183 L30.740,47.109 L30.822,47.035 L30.904,46.961 L30.986,46.887 L31.067,46.812 L31.149,46.737 L31.231,46.662 L31.313,46.587 L31.395,46.512 L31.477,46.436 L31.558,46.360 L31.640,46.284 L31.722,46.208 L31.804,46.132 L31.886,46.055 L31.968,45.978 L32.050,45.901 L32.131,45.824 L32.213,45.746 L32.295,45.668 L32.377,45.590 L32.459,45.512 L32.541,45.434 L32.622,45.355 L32.704,45.276 L32.786,45.197 L32.868,45.118 L32.950,45.039 L33.032,44.959 L33.114,44.879 L33.195,44.799 L33.277,44.718 L33.359,44.638 L33.441,44.557 L33.523,44.476 L33.605,44.395 L33.686,44.313 L33.768,44.231 L33.850,44.149 L33.932,44.067 L34.014,43.985 L34.096,43.902 L34.178,43.819 L34.259,43.736 L34.341,43.652 L34.423,43.569 L34.505,43.485 L34.587,43.401 L34.669,43.317 L34.751,43.232 L34.832,43.147 L34.914,43.062 L34.996,42.977 L35.078,42.891 L35.160,42.806 L35.242,42.720 L35.323,42.634 L35.405,42.547 L35.487,42.460 L35.569,42.373 L35.651,42.286 L35.733,42.199 L35.815,42.111 L35.896,42.023 L35.978,41.935 L36.060,41.847 L36.142,41.758 L36.224,41.669 L36.306,41.580 L36.387,41.490 L36.469,41.401 L36.551,41.311 L36.633,41.221 L36.715,41.130 L36.797,41.039 L36.879,40.949 L36.960,40.857 L37.042,40.766 L37.124,40.674 L37.206,40.582 L37.288,40.490 L37.370,40.398 L37.451,40.305 L37.533,40.212 L37.615,40.119 L37.697,40.025 L37.779,39.931 L37.861,39.837 L37.943,39.743 L38.024,39.648 L38.106,39.553 L38.188,39.458 L38.270,39.363 L38.352,39.267 L38.434,39.171 L38.515,39.075 L38.597,38.979 L38.679,38.882 L38.761,38.785 L38.843,38.688 L38.925,38.590 L39.007,38.493 L39.088,38.395 L39.170,38.296 L39.252,38.198 L39.334,38.099 L39.416,37.999 L39.498,37.900 L39.580,37.800 L39.661,37.700 L39.743,37.600 L39.825,37.499 L39.907,37.398 L39.989,37.297 L40.071,37.196 L40.152,37.094 L40.234,36.992 L40.316,36.890 L40.398,36.787 L40.480,36.685 L40.562,36.581 L40.644,36.478 L40.725,36.374 L40.807,36.270 L40.889,36.166 L40.971,36.061 L41.053,35.956 L41.135,35.851 L41.216,35.746 L41.298,35.640 L41.380,35.534 L41.462,35.427 L41.544,35.321 L41.626,35.214 L41.708,35.107 L41.789,34.999 L41.871,34.891 L41.953,34.783 L42.035,34.675 L42.117,34.566 L42.199,34.457 L42.280,34.347 L42.362,34.238 L42.444,34.128 L42.526,34.017 L42.608,33.907 L42.690,33.796 L42.772,33.684 L42.853,33.573 L42.935,33.461 L43.017,33.349 L43.099,33.236 L43.181,33.124 L43.263,33.010 L43.344,32.897 L43.426,32.783 L43.508,32.669 L43.590,32.555 L43.672,32.440 L43.754,32.325 L43.836,32.210 L43.917,32.094 L43.999,31.978 L44.081,31.862 L44.163,31.745 L44.245,31.628 L44.327,31.511 L44.408,31.393 L44.490,31.275 L44.572,31.157 L44.654,31.038 L44.736,30.919 L44.818,30.800 L44.900,30.680 L44.981,30.560 L45.063,30.440 L45.145,30.319 L45.227,30.198 L45.309,30.077 L45.391,29.955 L45.473,29.833 L45.554,29.711 L45.636,29.588 L45.718,29.465 L45.800,29.342 L45.882,29.218 L45.964,29.094 L46.045,28.969 L46.127,28.845 L46.209,28.719 L46.291,28.594 L46.373,28.468 L46.455,28.342 L46.537,28.215 L46.618,28.089 L46.700,27.961 L46.782,27.834 L46.864,27.706 L46.946,27.577 L47.028,27.449 L47.109,27.320 L47.191,27.190 L47.273,27.061 L47.355,26.930 L47.437,26.800 L47.519,26.669 L47.601,26.538 L47.682,26.406 L47.764,26.274 L47.846,26.142 L47.928,26.009 L48.010,25.876 L48.092,25.743 L48.173,25.609 L48.255,25.475 L48.337,25.340 L48.419,25.205 L48.501,25.070 L48.583,24.934 L48.665,24.798 L48.746,24.662 L48.828,24.525 L48.910,24.388 L48.992,24.250 L49.074,24.112 L49.156,23.974 L49.237,23.835 L49.319,23.696 L49.401,23.556 L49.483,23.416 L49.565,23.276 L49.647,23.135 L49.729,22.994 L49.810,22.852 L49.892,22.710 L49.974,22.568 L50.056,22.425 L50.138,22.282 L50.220,22.139 L50.301,21.995 L50.383,21.850 L50.465,21.706 L50.547,21.561 L50.629,21.415 L50.711,21.269 L50.793,21.123 L50.874,20.976 L50.956,20.829 L51.038,20.681 L51.120,20.533 L51.202,20.385 L51.284,20.236 L51.366,20.087 L51.447,19.937 L51.529,19.787 L51.611,19.636 L51.693,19.485 L51.775,19.334 L51.857,19.182 L51.938,19.030 L52.020,18.877 L52.102,18.724 L52.184,18.571 L52.266,18.417 L52.348,18.263 L52.430,18.108 L52.511,17.953 L52.593,17.797 L52.675,17.641 L52.757,17.484 L52.839,17.327 L52.921,17.170 L53.002,17.012 L53.084,16.854 L53.166,16.695 L53.248,16.536 L53.330,16.376 L53.412,16.216 L53.494,16.056 L53.575,15.895 L53.657,15.733 L53.739,15.571 L53.821,15.409 L53.903,15.246 L53.985,15.083 L54.066,14.919 L54.148,14.755 L54.230,14.590 L54.312,14.425 L54.394,14.260 L54.476,14.094 L54.558,13.927 L54.639,13.760 L54.721,13.593 L54.803,13.425 L54.885,13.257 L54.967,13.088 L55.049,12.919 L55.130,12.749 L55.212,12.579 L55.294,12.408 L55.376,12.237 L55.458,12.065 L55.540,11.893 L55.622,11.720 L55.703,11.547 L55.785,11.373 L55.867,11.199 L55.949,11.025 L56.031,10.850 L56.113,10.674 L56.195,10.498 L56.276,10.321 L56.358,10.144 L56.440,9.967 L56.522,9.789 L56.604,9.610 L56.686,9.431 L56.767,9.252 L56.849,9.072 L56.931,8.891 L57.013,8.710 L57.095,8.528 L57.177,8.346 L57.259,8.164 L57.340,7.981 L57.422,7.797 L57.504,7.613 L57.586,7.428 L57.668,7.243 L57.750,7.057 L57.831,6.871 L57.913,6.684 L57.995,6.497 L58.077,6.309 L58.159,6.121 L58.241,5.932 L58.323,5.743 L58.404,5.553 L58.486,5.363 L58.568,5.172 L58.650,4.980 L58.732,4.788 L58.814,4.596 L58.895,4.402 L58.977,4.209 L59.059,4.015 L59.141,3.820 L59.223,3.625 L59.305,3.429 L59.387,3.232 L59.468,3.035 L59.550,2.838 L59.632,2.640 L59.714,2.441 L59.796,2.242 L59.878,2.042 L59.959,1.842 L60.041,1.641 L60.123,1.440 L60.205,1.238 L60.287,1.036 L60.369,0.832 L60.451,0.629 L60.532,0.425 L60.614,0.220"/>
<path stroke-dashoffset="0.000" d="M11.506,62.637 L11.599,62.602 L11.692,62.568 L11.785,62.533 L11.878,62.498 L11.971,62.463 L12.065,62.428 L12.158,62.393 L12.251,62.357 L12.344,62.322 L12.437,62.286 L12.530,62.250 L12.623,62.215 L12.716,62.179 L12.809,62.143 L12.902,62.107 L12.996,62.070 L13.089,62.034 L13.182,61.997 L13.275,61.961 L13.368,61.924 L13.461,61.887 L13.554,61.850 L13.647,61.813 L13.740,61.776 L13.834,61.739 L13.927,61.701 L14.020,61.664 L14.113,61.626 L14.206,61.588 L14.299,61.550 L14.392,61.512 L14.485,61.474 L14.578,61.436 L14.671,61.397 L14.765,61.359 L14.858,61.320 L14.951,61.281 L15.044,61.243 L15.137,61.203 L15.230,61.164 L15.323,61.125 L15.416,61.086 L15.509,61.046 L15.603,61.007 L15.696,60.967 L15.789,60.927 L15.882,60.887 L15.975,60.847 L16.068,60.806 L16.161,60.766 L16.254,60.725 L16.347,60.685 L16.440,60.644 L16.534,60.603 L16.627,60.562 L16.720,60.521 L16.813,60.479 L16.906,60.438 L16.999,60.396 L17.092,60.355 L17.185,60.313 L17.278,60.271 L17.372,60.229 L17.465,60.186 L17.558,60.144 L17.651,60.102 L17.744,60.059 L17.837,60.016 L17.930,59.973 L18.023,59.930 L18.116,59.887 L18.209,59.844 L18.303,59.800 L18.396,59.756 L18.489,59.713 L18.582,59.669 L18.675,59.625 L18.768,59.581 L18.861,59.536 L18.954,59.492 L19.047,59.447 L19.141,59.402 L19.234,59.357 L19.327,59.312 L19.420,59.267 L19.513,59.222 L19.606,59.176 L19.699,59.131 L19.792,59.085 L19.885,59.039 L19.978,58.993 L20.072,58.947 L20.165,58.901 L20.258,58.854 L20.351,58.807 L20.444,58.761 L20.537,58.714 L20.630,58.667 L20.723,58.619 L20.816,58.572 L20.910,58.524 L21.003,58.477 L21.096,58.429 L21.189,58.381 L21.282,58.333 L21.375,58.284 L21.468,58.236 L21.561,58.187 L21.654,58.139 L21.747,58.090 L21.841,58.041 L21.934,57.991 L22.027,57.942 L22.120,57.892 L22.213,57.843 L22.306,57.793 L22.399,57.743 L22.492,57.693 L22.585,57.642 L22.679,57.592 L22.772,57.541 L22.865,57.490 L22.958,57.439 L23.051,57.388 L23.144,57.337 L23.237,57.285 L23.330,57.234 L23.423,57.182 L23.516,57.130 L23.610,57.078 L23.703,57.026 L23.796,56.973 L23.889,56.920 L23.982,56.868 L24.075,56.815 L24.168,56.761 L24.261,56.708 L24.354,56.655 L24.448,56.601 L24.541,56.547 L24.634,56.493 L24.727,56.439 L24.820,56.385 L24.913,56.330 L25.006,56.275 L25.099,56.221 L25.192,56.166 L25.285,56.110 L25.379,56.055 L25.472,55.999 L25.565,55.944 L25.658,55.888 L25.751,55.832 L25.844,55.775 L25.937,55.719 L26.030,55.662 L26.123,55.605 L26.217,55.548 L26.310,55.491 L26.403,55.434 L26.496,55.376 L26.589,55.319 L26.682,55.261 L26.775,55.203 L26.868,55.144 L26.961,55.086 L27.054,55.027 L27.148,54.968 L27.241,54.909 L27.334,54.850 L27.427,54.791 L27.520,54.731 L27.613,54.671 L27.706,54.611 L27.799,54.551 L27.892,54.491 L27.986,54.430 L28.079,54.369 L28.172,54.308 L28.265,54.247 L28.358,54.186 L28.451,54.124 L28.544,54.063 L28.637,54.001 L28.730,53.939 L28.823,53.876 L28.917,53.814 L29.010,53.751 L29.103,53.688 L29.196,53.625 L29.289,53.562 L29.382,53.498 L29.475,53.435 L29.568,53.371 L29.661,53.306 L29.755,53.242 L29.848,53.178 L29.941,53.113 L30.034,53.048 L30.127,52.983 L30.220,52.917 L30.313,52.852 L30.406,52.786 L30.499,52.720 L30.592,52.654 L30.686,52.587 L30.779,52.521 L30.872,52.454 L30.965,52.387 L31.058,52.320 L31.151,52.252 L31.244,52.184 L31.337,52.116 L31.430,52.048 L31.524,51.980 L31.617,51.911 L31.710,51.843 L31.803,51.774 L31.896,51.704 L31.989,51.635 L32.082,51.565 L32.175,51.495 L32.268,51.425 L32.361,51.355 L32.455,51.284 L32.548,51.214 L32.641,51.143 L32.734,51.071 L32.827,51.000 L32.920,50.928 L33.013,50.856 L33.106,50.784 L33.199,50.712 L33.293,50.639 L33.386,50.566 L33.479,50.493 L33.572,50.420 L33.665,50.346 L33.758,50.273 L33.851,50.199 L33.944,50.124 L34.037,50.050 L34.130,49.975 L34.224,49.900 L34.317,49.825 L34.410,49.750 L34.503,49.674 L34.596,49.598 L34.689,49.522 L34.782,49.445 L34.875,49.369 L34.968,49.292 L35.062,49.215 L35.155,49.137 L35.248,49.060 L35.341,48.982 L35.434,48.904 L35.527,48.825 L35.620,48.747 L35.713,48.668 L35.806,48.589 L35.900,48.509 L35.993,48.430 L36.086,48.350 L36.179,48.270 L36.272,48.189 L36.365,48.108 L36.458,48.028 L36.551,47.946 L36.644,47.865 L36.737,47.783 L36.831,47.701 L36.924,47.619 L37.017,47.537 L37.110,47.454 L37.203,47.371 L37.296,47.288 L37.389,47.204 L37.482,47.120 L37.575,47.036 L37.669,46.952 L37.762,46.867 L37.855,46.782 L37.948,46.697 L38.041,46.612 L38.134,46.526 L38.227,46.440 L38.320,46.354 L38.413,46.267 L38.506,46.181 L38.600,46.094 L38.693,46.006 L38.786,45.919 L38.879,45.831 L38.972,45.743 L39.065,45.654 L39.158,45.565 L39.251,45.476 L39.344,45.387 L39.438,45.297 L39.531,45.207 L39.624,45.117 L39.717,45.027 L39.810,44.936 L39.903,44.845 L39.996,44.754 L40.089,44.662 L40.182,44.570 L40.275,44.478 L40.369,44.386 L40.462,44.293 L40.555,44.200 L40.648,44.106 L40.741,44.013 L40.834,43.919 L40.927,43.824 L41.020,43.730 L41.113,43.635 L41.207,43.540 L41.300,43.444 L41.393,43.348 L41.486,43.252 L41.579,43.156 L41.672,43.059 L41.765,42.962 L41.858,42.865 L41.951,42.767 L42.044,42.669 L42.138,42.571 L42.231,42.472 L42.324,42.373 L42.417,42.274 L42.510,42.175 L42.603,42.075 L42.696,41.975 L42.789,41.874 L42.882,41.773 L42.976,41.672 L43.069,41.571 L43.162,41.469 L43.255,41.367 L43.348,41.265 L43.441,41.162 L43.534,41.059 L43.627,40.955 L43.720,40.852 L43.813,40.748 L43.907,40.643 L44.000,40.538 L44.093,40.433 L44.186,40.328 L44.279,40.222 L44.372,40.116 L44.465,40.010 L44.558,39.903 L44.651,39.796 L44.745,39.689 L44.838,39.581 L44.931,39.473 L45.024,39.364 L45.117,39.255 L45.210,39.146 L45.303,39.037 L45.396,38.927 L45.489,38.817 L45.582,38.706 L45.676,38.595 L45.769,38.484 L45.862,38.372 L45.955,38.260 L46.048,38.148 L46.141,38.035 L46.234,37.922 L46.327,37.809 L46.420,37.695 L46.514,37.581 L46.607,37.466 L46.700,37.352 L46.793,37.236 L46.886,37.121 L46.979,37.005 L47.072,36.888 L47.165,36.772 L47.258,36.655 L47.351,36.537 L47.445,36.419 L47.538,36.301 L47.631,36.183 L47.724,36.064 L47.817,35.944 L47.910,35.825 L48.003,35.705 L48.096,35.584 L48.189,35.463 L48.283,35.342 L48.376,35.220 L48.469,35.098 L48.562,34.976 L48.655,34.853 L48.748,34.730 L48.841,34.606 L48.934,34.482 L49.027,34.358 L49.120,34.233 L49.214,34.108 L49.307,33.982 L49.400,33.856 L49.493,33.730 L49.586,33.603 L49.679,33.476 L49.772,33.348 L49.865,33.220 L49.958,33.092 L50.052,32.963 L50.145,32.834 L50.238,32.704 L50.331,32.574 L50.424,32.444 L50.517,32.313 L50.610,32.182 L50.703,32.050 L50.796,31.918 L50.889,31.785 L50.983,31.652 L51.076,31.519 L51.169,31.385 L51.262,31.251 L51.355,31.116 L51.448,30.981 L51.541,30.845 L51.634,30.709 L51.727,30.573 L51.821,30.436 L51.914,30.299 L52.007,30.161 L52.100,30.023 L52.193,29.884 L52.286,29.745 L52.379,29.606 L52.472,29.466 L52.565,29.326 L52.658,29.185 L52.752,29.043 L52.845,28.902 L52.938,28.760 L53.031,28.617 L53.124,28.474 L53.217,28.330 L53.310,28.186 L53.403,28.042 L53.496,27.897 L53.590,27.752 L53.683,27.606 L53.776,27.459 L53.869,27.313 L53.962,27.165 L54.055,27.018 L54.148,26.869 L54.241,26.721 L54.334,26.572 L54.427,26.422 L54.521,26.272 L54.614,26.121 L54.707,25.970 L54.800,25.819 L54.893,25.667 L54.986,25.514 L55.079,25.361 L55.172,25.208 L55.265,25.054 L55.359,24.899 L55.452,24.744 L55.545,24.589 L55.638,24.433 L55.731,24.277 L55.824,24.120 L55.917,23.962 L56.010,23.804 L56.103,23.646 L56.196,23.487 L56.290,23.327 L56.383,23.168 L56.476,23.007 L56.569,22.846 L56.662,22.685 L56.755,22.523 L56.848,22.360 L56.941,22.197 L57.034,22.033 L57.128,21.869 L57.221,21.705 L57.314,21.540 L57.407,21.374 L57.500,21.208 L57.593,21.041 L57.686,20.874 L57.779,20.706 L57.872,20.538 L57.965,20.369 L58.059,20.199 L58.152,20.029 L58.245,19.859 L58.338,19.688 L58.431,19.516 L58.524,19.344 L58.617,19.172 L58.710,18.998 L58.803,18.825 L58.897,18.650 L58.990,18.475 L59.083,18.300 L59.176,18.124 L59.269,17.947 L59.362,17.770 L59.455,17.593 L59.548,17.414 L59.641,17.236 L59.734,17.056 L59.828,16.876 L59.921,16.696 L60.014,16.515 L60.107,16.333 L60.200,16.151 L60.293,15.968 L60.386,15.784 L60.479,15.600 L60.572,15.416 L60.666,15.230 L60.759,15.045 L60.852,14.858 L60.945,14.671 L61.038,14.484 L61.131,14.296 L61.224,14.107 L61.317,13.917 L61.410,13.727 L61.503,13.537 L61.597,13.346 L61.690,13.154 L61.783,12.961 L61.876,12.768 L61.969,12.575 L62.062,12.381 L62.155,12.186 L62.248,11.990 L62.341,11.794 L62.435,11.597 L62.528,11.400 L62.621,11.202 L62.714,11.003 L62.807,10.804 L62.900,10.604 L62.993,10.404 L63.086,10.202 L63.179,10.001 L63.272,9.798 L63.366,9.595 L63.459,9.391 L63.552,9.187 L63.645,8.982 L63.738,8.776 L63.831,8.570 L63.924,8.363 L64.017,8.155 L64.110,7.947 L64.204,7.737 L64.297,7.528 L64.390,7.317 L64.483,7.106 L64.576,6.895 L64.669,6.682 L64.762,6.469 L64.855,6.256 L64.948,6.041 L65.041,5.826 L65.135,5.610 L65.228,5.394 L65.321,5.177 L65.414,4.959 L65.507,4.740 L65.600,4.521 L65.693,4.301 L65.786,4.080 L65.879,3.859 L65.973,3.637 L66.066,3.414 L66.159,3.191 L66.252,2.967 L66.345,2.742 L66.438,2.516 L66.531,2.290 L66.624,2.063 L66.717,1.835 L66.810,1.606 L66.904,1.377 L66.997,1.147 L67.090,0.916 L67.183,0.685 L67.276,0.453 L67.369,0.220"/>
<path stroke-dashoffset="0.760" d="M11.506,64.873 L11.610,64.842 L11.715,64.811 L11.819,64.780 L11.923,64.749 L12.028,64.718 L12.132,64.687 L12.236,64.655 L12.341,64.624 L12.445,64.592 L12.550,64.560 L12.654,64.529 L12.758,64.497 L12.863,64.464 L12.967,64.432 L13.071,64.400 L13.176,64.367 L13.280,64.335 L13.384,64.302 L13.489,64.269 L13.593,64.236 L13.698,64.203 L13.802,64.170 L13.906,64.137 L14.011,64.103 L14.115,64.070 L14.219,64.036 L14.324,64.003 L14.428,63.969 L14.532,63.935 L14.637,63.901 L14.741,63.866 L14.846,63.832 L14.950,63.797 L15.054,63.763 L15.159,63.728 L15.263,63.693 L15.367,63.658 L15.472,63.623 L15.576,63.588 L15.680,63.553 L15.785,63.517 L15.889,63.481 L15.994,63.446 L16.098,63.410 L16.202,63.374 L16.307,63.338 L16.411,63.301 L16.515,63.265 L16.620,63.229 L16.724,63.192 L16.828,63.155 L16.933,63.118 L17.037,63.081 L17.142,63.044 L17.246,63.007 L17.350,62.969 L17.455,62.932 L17.559,62.894 L17.663,62.856 L17.768,62.818 L17.872,62.780 L17.976,62.742 L18.081,62.703 L18.185,62.665 L18.290,62.626 L18.394,62.587 L18.498,62.549 L18.603,62.509 L18.707,62.470 L18.811,62.431 L18.916,62.391 L19.020,62.352 L19.124,62.312 L19.229,62.272 L19.333,62.232 L19.438,62.192 L19.542,62.151 L19.646,62.111 L19.751,62.070 L19.855,62.029 L19.959,61.989 L20.064,61.947 L20.168,61.906 L20.272,61.865 L20.377,61.823 L20.481,61.782 L20.586,61.740 L20.690,61.698 L20.794,61.656 L20.899,61.613 L21.003,61.571 L21.107,61.528 L21.212,61.486 L21.316,61.443 L21.420,61.400 L21.525,61.357 L21.629,61.313 L21.734,61.270 L21.838,61.226 L21.942,61.182 L22.047,61.138 L22.151,61.094 L22.255,61.050 L22.360,61.006 L22.464,60.961 L22.568,60.916 L22.673,60.871 L22.777,60.826 L22.882,60.781 L22.986,60.736 L23.090,60.690 L23.195,60.644 L23.299,60.598 L23.403,60.552 L23.508,60.506 L23.612,60.460 L23.716,60.413 L23.821,60.366 L23.925,60.320 L24.030,60.273 L24.134,60.225 L24.238,60.178 L24.343,60.130 L24.447,60.083 L24.551,60.035 L24.656,59.987 L24.760,59.938 L24.864,59.890 L24.969,59.841 L25.073,59.793 L25.178,59.744 L25.282,59.695 L25.386,59.645 L25.491,59.596 L25.595,59.546 L25.699,59.496 L25.804,59.446 L25.908,59.396 L26.012,59.346 L26.117,59.295 L26.221,59.245 L26.326,59.194 L26.430,59.143 L26.534,59.091 L26.639,59.040 L26.743,58.988 L26.847,58.937 L26.952,58.885 L27.056,58.832 L27.160,58.780 L27.265,58.727 L27.369,58.675 L27.474,58.622 L27.578,58.569 L27.682,58.515 L27.787,58.462 L27.891,58.408 L27.995,58.354 L28.100,58.300 L28.204,58.246 L28.308,58.191 L28.413,58.137 L28.517,58.082 L28.622,58.027 L28.726,57.972 L28.830,57.916 L28.935,57.861 L29.039,57.805 L29.143,57.749 L29.248,57.692 L29.352,57.636 L29.456,57.579 L29.561,57.522 L29.665,57.465 L29.770,57.408 L29.874,57.351 L29.978,57.293 L30.083,57.235 L30.187,57.177 L30.291,57.119 L30.396,57.060 L30.500,57.002 L30.604,56.943 L30.709,56.884 L30.813,56.824 L30.918,56.765 L31.022,56.705 L31.126,56.645 L31.231,56.585 L31.335,56.524 L31.439,56.464 L31.544,56.403 L31.648,56.342 L31.752,56.281 L31.857,56.219 L31.961,56.157 L32.066,56.095 L32.170,56.033 L32.274,55.971 L32.379,55.908 L32.483,55.845 L32.587,55.782 L32.692,55.719 L32.796,55.656 L32.900,55.592 L33.005,55.528 L33.109,55.464 L33.213,55.399 L33.318,55.335 L33.422,55.270 L33.527,55.205 L33.631,55.139 L33.735,55.074 L33.840,55.008 L33.944,54.942 L34.048,54.876 L34.153,54.809 L34.257,54.742 L34.361,54.675 L34.466,54.608 L34.570,54.541 L34.675,54.473 L34.779,54.405 L34.883,54.337 L34.988,54.268 L35.092,54.200 L35.196,54.131 L35.301,54.062 L35.405,53.992 L35.509,53.922 L35.614,53.853 L35.718,53.782 L35.823,53.712 L35.927,53.641 L36.031,53.570 L36.136,53.499 L36.240,53.428 L36.344,53.356 L36.449,53.284 L36.553,53.212 L36.657,53.139 L36.762,53.067 L36.866,52.994 L36.971,52.920 L37.075,52.847 L37.179,52.773 L37.284,52.699 L37.388,52.625 L37.492,52.550 L37.597,52.475 L37.701,52.400 L37.805,52.325 L37.910,52.249 L38.014,52.173 L38.119,52.097 L38.223,52.021 L38.327,51.944 L38.432,51.867 L38.536,51.790 L38.640,51.712 L38.745,51.634 L38.849,51.556 L38.953,51.478 L39.058,51.399 L39.162,51.320 L39.267,51.241 L39.371,51.162 L39.475,51.082 L39.580,51.002 L39.684,50.921 L39.788,50.841 L39.893,50.760 L39.997,50.678 L40.101,50.597 L40.206,50.515 L40.310,50.433 L40.415,50.351 L40.519,50.268 L40.623,50.185 L40.728,50.102 L40.832,50.018 L40.936,49.934 L41.041,49.850 L41.145,49.765 L41.249,49.681 L41.354,49.596 L41.458,49.510 L41.563,49.424 L41.667,49.338 L41.771,49.252 L41.876,49.165 L41.980,49.079 L42.084,48.991 L42.189,48.904 L42.293,48.816 L42.397,48.728 L42.502,48.639 L42.606,48.550 L42.711,48.461 L42.815,48.372 L42.919,48.282 L43.024,48.192 L43.128,48.101 L43.232,48.011 L43.337,47.920 L43.441,47.828 L43.545,47.736 L43.650,47.644 L43.754,47.552 L43.859,47.459 L43.963,47.366 L44.067,47.273 L44.172,47.179 L44.276,47.085 L44.380,46.991 L44.485,46.896 L44.589,46.801 L44.693,46.706 L44.798,46.610 L44.902,46.514 L45.007,46.417 L45.111,46.321 L45.215,46.224 L45.320,46.126 L45.424,46.028 L45.528,45.930 L45.633,45.832 L45.737,45.733 L45.841,45.634 L45.946,45.534 L46.050,45.434 L46.155,45.334 L46.259,45.233 L46.363,45.132 L46.468,45.031 L46.572,44.929 L46.676,44.827 L46.781,44.725 L46.885,44.622 L46.989,44.519 L47.094,44.415 L47.198,44.311 L47.303,44.207 L47.407,44.102 L47.511,43.997 L47.616,43.892 L47.720,43.786 L47.824,43.680 L47.929,43.573 L48.033,43.466 L48.137,43.359 L48.242,43.251 L48.346,43.143 L48.451,43.035 L48.555,42.926 L48.659,42.816 L48.764,42.707 L48.868,42.597 L48.972,42.486 L49.077,42.375 L49.181,42.264 L49.285,42.153 L49.390,42.041 L49.494,41.928 L49.599,41.815 L49.703,41.702 L49.807,41.589 L49.912,41.475 L50.016,41.360 L50.120,41.245 L50.225,41.130 L50.329,41.014 L50.433,40.898 L50.538,40.782 L50.642,40.665 L50.747,40.547 L50.851,40.430 L50.955,40.312 L51.060,40.193 L51.164,40.074 L51.268,39.954 L51.373,39.835 L51.477,39.714 L51.581,39.594 L51.686,39.472 L51.790,39.351 L51.895,39.229 L51.999,39.106 L52.103,38.983 L52.208,38.860 L52.312,38.736 L52.416,38.612 L52.521,38.487 L52.625,38.362 L52.729,38.237 L52.834,38.111 L52.938,37.984 L53.043,37.857 L53.147,37.730 L53.251,37.602 L53.356,37.474 L53.460,37.345 L53.564,37.216 L53.669,37.086 L53.773,36.956 L53.877,36.825 L53.982,36.694 L54.086,36.563 L54.191,36.431 L54.295,36.298 L54.399,36.165 L54.504,36.032 L54.608,35.898 L54.712,35.764 L54.817,35.629 L54.921,35.493 L55.025,35.357 L55.130,35.221 L55.234,35.084 L55.339,34.947 L55.443,34.809 L55.547,34.671 L55.652,34.532 L55.756,34.393 L55.860,34.253 L55.965,34.113 L56.069,33.972 L56.173,33.831 L56.278,33.689 L56.382,33.547 L56.487,33.404 L56.591,33.261 L56.695,33.117 L56.800,32.973 L56.904,32.828 L57.008,32.682 L57.113,32.537 L57.217,32.390 L57.321,32.243 L57.426,32.096 L57.530,31.948 L57.635,31.799 L57.739,31.650 L57.843,31.501 L57.948,31.351 L58.052,31.200 L58.156,31.049 L58.261,30.897 L58.365,30.745 L58.469,30.592 L58.574,30.439 L58.678,30.285 L58.783,30.130 L58.887,29.975 L58.991,29.820 L59.096,29.663 L59.200,29.507 L59.304,29.350 L59.409,29.192 L59.513,29.033 L59.617,28.874 L59.722,28.715 L59.826,28.555 L59.931,28.394 L60.035,28.233 L60.139,28.071 L60.244,27.909 L60.348,27.746 L60.452,27.582 L60.557,27.418 L60.661,27.254 L60.765,27.088 L60.870,26.922 L60.974,26.756 L61.079,26.589 L61.183,26.421 L61.287,26.253 L61.392,26.084 L61.496,25.914 L61.600,25.744 L61.705,25.574 L61.809,25.402 L61.913,25.230 L62.018,25.058 L62.122,24.885 L62.227,24.711 L62.331,24.537 L62.435,24.362 L62.540,24.186 L62.644,24.010 L62.748,23.833 L62.853,23.655 L62.957,23.477 L63.061,23.298 L63.166,23.119 L63.270,22.939 L63.375,22.758 L63.479,22.577 L63.583,22.395 L63.688,22.212 L63.792,22.029 L63.896,21.845 L64.001,21.660 L64.105,21.475 L64.209,21.289 L64.314,21.102 L64.418,20.915 L64.523,20.727 L64.627,20.538 L64.731,20.349 L64.836,20.159 L64.940,19.968 L65.044,19.777 L65.149,19.585 L65.253,19.392 L65.357,19.199 L65.462,19.005 L65.566,18.810 L65.671,18.614 L65.775,18.418 L65.879,18.221 L65.984,18.024 L66.088,17.825 L66.192,17.626 L66.297,17.427 L66.401,17.226 L66.505,17.025 L66.610,16.823 L66.714,16.621 L66.819,16.417 L66.923,16.213 L67.027,16.008 L67.132,15.803 L67.236,15.597 L67.340,15.390 L67.445,15.182 L67.549,14.974 L67.653,14.764 L67.758,14.554 L67.862,14.344 L67.967,14.132 L68.071,13.920 L68.175,13.707 L68.280,13.493 L68.384,13.279 L68.488,13.063 L68.593,12.847 L68.697,12.631 L68.801,12.413 L68.906,12.195 L69.010,11.975 L69.115,11.756 L69.219,11.535 L69.323,11.313 L69.428,11.091 L69.532,10.868 L69.636,10.644 L69.741,10.419 L69.845,10.194 L69.949,9.968 L70.054,9.740 L70.158,9.512 L70.263,9.284 L70.367,9.054 L70.471,8.824 L70.576,8.593 L70.680,8.361 L70.784,8.128 L70.889,7.894 L70.993,7.659 L71.097,7.424 L71.202,7.188 L71.306,6.951 L71.411,6.713 L71.515,6.474 L71.619,6.235 L71.724,5.994 L71.828,5.753 L71.932,5.511 L72.037,5.268 L72.141,5.024 L72.245,4.779 L72.350,4.533 L72.454,4.287 L72.559,4.039 L72.663,3.791 L72.767,3.542 L72.872,3.292 L72.976,3.041 L73.080,2.789 L73.185,2.536 L73.289,2.282 L73.393,2.028 L73.498,1.772 L73.602,1.516 L73.707,1.258 L73.811,1.000 L73.915,0.741 L74.020,0.481 L74.124,0.220"/>
<path stroke-dashoffset="0.995" d="M11.506,66.648 L11.618,66.622 L11.730,66.595 L11.842,66.569 L11.955,66.542 L12.067,66.516 L12.179,66.489 L12.291,66.462 L12.403,66.435 L12.516,66.408 L12.628,66.381 L12.740,66.353 L12.852,66.326 L12.964,66.299 L13.077,66.271 L13.189,66.243 L13.301,66.215 L13.413,66.188 L13.525,66.160 L13.638,66.131 L13.750,66.103 L13.862,66.075 L13.974,66.046 L14.086,66.018 L14.199,65.989 L14.311,65.960 L14.423,65.931 L14.535,65.902 L14.647,65.873 L14.760,65.844 L14.872,65.815 L14.984,65.785 L15.096,65.756 L15.208,65.726 L15.321,65.696 L15.433,65.666 L15.545,65.636 L15.657,65.606 L15.769,65.576 L15.882,65.545 L15.994,65.515 L16.106,65.484 L16.218,65.454 L16.330,65.423 L16.443,65.392 L16.555,65.361 L16.667,65.330 L16.779,65.298 L16.891,65.267 L17.003,65.235 L17.116,65.204 L17.228,65.172 L17.340,65.140 L17.452,65.108 L17.564,65.076 L17.677,65.043 L17.789,65.011 L17.901,64.978 L18.013,64.946 L18.125,64.913 L18.238,64.880 L18.350,64.847 L18.462,64.814 L18.574,64.780 L18.686,64.747 L18.799,64.713 L18.911,64.680 L19.023,64.646 L19.135,64.612 L19.247,64.578 L19.360,64.544 L19.472,64.509 L19.584,64.475 L19.696,64.440 L19.808,64.405 L19.921,64.370 L20.033,64.335 L20.145,64.300 L20.257,64.265 L20.369,64.230 L20.482,64.194 L20.594,64.158 L20.706,64.123 L20.818,64.087 L20.930,64.050 L21.043,64.014 L21.155,63.978 L21.267,63.941 L21.379,63.905 L21.491,63.868 L21.604,63.831 L21.716,63.794 L21.828,63.757 L21.940,63.719 L22.052,63.682 L22.165,63.644 L22.277,63.606 L22.389,63.568 L22.501,63.530 L22.613,63.492 L22.725,63.454 L22.838,63.415 L22.950,63.376 L23.062,63.338 L23.174,63.299 L23.286,63.259 L23.399,63.220 L23.511,63.181 L23.623,63.141 L23.735,63.101 L23.847,63.061 L23.960,63.021 L24.072,62.981 L24.184,62.941 L24.296,62.900 L24.408,62.860 L24.521,62.819 L24.633,62.778 L24.745,62.737 L24.857,62.695 L24.969,62.654 L25.082,62.612 L25.194,62.571 L25.306,62.529 L25.418,62.487 L25.530,62.444 L25.643,62.402 L25.755,62.359 L25.867,62.317 L25.979,62.274 L26.091,62.231 L26.204,62.187 L26.316,62.144 L26.428,62.100 L26.540,62.057 L26.652,62.013 L26.765,61.969 L26.877,61.924 L26.989,61.880 L27.101,61.835 L27.213,61.791 L27.326,61.746 L27.438,61.701 L27.550,61.655 L27.662,61.610 L27.774,61.564 L27.887,61.519 L27.999,61.473 L28.111,61.426 L28.223,61.380 L28.335,61.334 L28.447,61.287 L28.560,61.240 L28.672,61.193 L28.784,61.146 L28.896,61.098 L29.008,61.051 L29.121,61.003 L29.233,60.955 L29.345,60.907 L29.457,60.858 L29.569,60.810 L29.682,60.761 L29.794,60.712 L29.906,60.663 L30.018,60.614 L30.130,60.565 L30.243,60.515 L30.355,60.465 L30.467,60.415 L30.579,60.365 L30.691,60.314 L30.804,60.264 L30.916,60.213 L31.028,60.162 L31.140,60.111 L31.252,60.059 L31.365,60.008 L31.477,59.956 L31.589,59.904 L31.701,59.852 L31.813,59.800 L31.926,59.747 L32.038,59.694 L32.150,59.641 L32.262,59.588 L32.374,59.535 L32.487,59.481 L32.599,59.427 L32.711,59.373 L32.823,59.319 L32.935,59.264 L33.048,59.210 L33.160,59.155 L33.272,59.100 L33.384,59.045 L33.496,58.989 L33.609,58.933 L33.721,58.878 L33.833,58.821 L33.945,58.765 L34.057,58.708 L34.169,58.652 L34.282,58.595 L34.394,58.537 L34.506,58.480 L34.618,58.422 L34.730,58.364 L34.843,58.306 L34.955,58.248 L35.067,58.190 L35.179,58.131 L35.291,58.072 L35.404,58.012 L35.516,57.953 L35.628,57.893 L35.740,57.833 L35.852,57.773 L35.965,57.713 L36.077,57.652 L36.189,57.591 L36.301,57.530 L36.413,57.469 L36.526,57.408 L36.638,57.346 L36.750,57.284 L36.862,57.221 L36.974,57.159 L37.087,57.096 L37.199,57.033 L37.311,56.970 L37.423,56.907 L37.535,56.843 L37.648,56.779 L37.760,56.715 L37.872,56.650 L37.984,56.586 L38.096,56.521 L38.209,56.455 L38.321,56.390 L38.433,56.324 L38.545,56.258 L38.657,56.192 L38.770,56.126 L38.882,56.059 L38.994,55.992 L39.106,55.925 L39.218,55.857 L39.331,55.789 L39.443,55.721 L39.555,55.653 L39.667,55.585 L39.779,55.516 L39.891,55.447 L40.004,55.378 L40.116,55.308 L40.228,55.238 L40.340,55.168 L40.452,55.098 L40.565,55.027 L40.677,54.956 L40.789,54.885 L40.901,54.813 L41.013,54.741 L41.126,54.669 L41.238,54.597 L41.350,54.525 L41.462,54.452 L41.574,54.379 L41.687,54.305 L41.799,54.231 L41.911,54.157 L42.023,54.083 L42.135,54.009 L42.248,53.934 L42.360,53.859 L42.472,53.783 L42.584,53.707 L42.696,53.631 L42.809,53.555 L42.921,53.478 L43.033,53.402 L43.145,53.324 L43.257,53.247 L43.370,53.169 L43.482,53.091 L43.594,53.013 L43.706,52.934 L43.818,52.855 L43.931,52.776 L44.043,52.696 L44.155,52.616 L44.267,52.536 L44.379,52.456 L44.492,52.375 L44.604,52.294 L44.716,52.212 L44.828,52.130 L44.940,52.048 L45.053,51.966 L45.165,51.883 L45.277,51.800 L45.389,51.717 L45.501,51.633 L45.613,51.549 L45.726,51.465 L45.838,51.380 L45.950,51.295 L46.062,51.210 L46.174,51.124 L46.287,51.038 L46.399,50.952 L46.511,50.866 L46.623,50.779 L46.735,50.691 L46.848,50.604 L46.960,50.516 L47.072,50.427 L47.184,50.339 L47.296,50.250 L47.409,50.161 L47.521,50.071 L47.633,49.981 L47.745,49.891 L47.857,49.800 L47.970,49.709 L48.082,49.617 L48.194,49.526 L48.306,49.434 L48.418,49.341 L48.531,49.248 L48.643,49.155 L48.755,49.062 L48.867,48.968 L48.979,48.874 L49.092,48.779 L49.204,48.684 L49.316,48.589 L49.428,48.493 L49.540,48.397 L49.653,48.301 L49.765,48.204 L49.877,48.107 L49.989,48.009 L50.101,47.911 L50.214,47.813 L50.326,47.714 L50.438,47.615 L50.550,47.516 L50.662,47.416 L50.775,47.316 L50.887,47.215 L50.999,47.114 L51.111,47.013 L51.223,46.911 L51.335,46.809 L51.448,46.706 L51.560,46.603 L51.672,46.500 L51.784,46.396 L51.896,46.292 L52.009,46.188 L52.121,46.083 L52.233,45.977 L52.345,45.872 L52.457,45.766 L52.570,45.659 L52.682,45.552 L52.794,45.445 L52.906,45.337 L53.018,45.229 L53.131,45.120 L53.243,45.011 L53.355,44.902 L53.467,44.792 L53.579,44.681 L53.692,44.571 L53.804,44.460 L53.916,44.348 L54.028,44.236 L54.140,44.124 L54.253,44.011 L54.365,43.897 L54.477,43.784 L54.589,43.670 L54.701,43.555 L54.814,43.440 L54.926,43.324 L55.038,43.208 L55.150,43.092 L55.262,42.975 L55.375,42.858 L55.487,42.740 L55.599,42.622 L55.711,42.503 L55.823,42.384 L55.936,42.265 L56.048,42.145 L56.160,42.024 L56.272,41.903 L56.384,41.782 L56.497,41.660 L56.609,41.538 L56.721,41.415 L56.833,41.292 L56.945,41.168 L57.057,41.044 L57.170,40.919 L57.282,40.794 L57.394,40.668 L57.506,40.542 L57.618,40.415 L57.731,40.288 L57.843,40.161 L57.955,40.033 L58.067,39.904 L58.179,39.775 L58.292,39.645 L58.404,39.515 L58.516,39.385 L58.628,39.254 L58.740,39.122 L58.853,38.990 L58.965,38.857 L59.077,38.724 L59.189,38.591 L59.301,38.456 L59.414,38.322 L59.526,38.187 L59.638,38.051 L59.750,37.915 L59.862,37.778 L59.975,37.641 L60.087,37.503 L60.199,37.365 L60.311,37.226 L60.423,37.086 L60.536,36.946 L60.648,36.806 L60.760,36.665 L60.872,36.523 L60.984,36.381 L61.097,36.239 L61.209,36.096 L61.321,35.952 L61.433,35.808 L61.545,35.663 L61.658,35.517 L61.770,35.371 L61.882,35.225 L61.994,35.078 L62.106,34.930 L62.219,34.782 L62.331,34.633 L62.443,34.484 L62.555,34.334 L62.667,34.183 L62.779,34.032 L62.892,33.881 L63.004,33.728 L63.116,33.576 L63.228,33.422 L63.340,33.268 L63.453,33.114 L63.565,32.958 L63.677,32.803 L63.789,32.646 L63.901,32.489 L64.014,32.332 L64.126,32.173 L64.238,32.015 L64.350,31.855 L64.462,31.695 L64.575,31.534 L64.687,31.373 L64.799,31.211 L64.911,31.049 L65.023,30.886 L65.136,30.722 L65.248,30.557 L65.360,30.392 L65.472,30.227 L65.584,30.060 L65.697,29.894 L65.809,29.726 L65.921,29.558 L66.033,29.389 L66.145,29.219 L66.258,29.049 L66.370,28.878 L66.482,28.707 L66.594,28.535 L66.706,28.362 L66.819,28.189 L66.931,28.014 L67.043,27.840 L67.155,27.664 L67.267,27.488 L67.380,27.311 L67.492,27.134 L67.604,26.955 L67.716,26.777 L67.828,26.597 L67.941,26.417 L68.053,26.236 L68.165,26.054 L68.277,25.872 L68.389,25.689 L68.501,25.505 L68.614,25.321 L68.726,25.135 L68.838,24.950 L68.950,24.763 L69.062,24.576 L69.175,24.388 L69.287,24.199 L69.399,24.009 L69.511,23.819 L69.623,23.628 L69.736,23.437 L69.848,23.244 L69.960,23.051 L70.072,22.857 L70.184,22.663 L70.297,22.467 L70.409,22.271 L70.521,22.074 L70.633,21.877 L70.745,21.678 L70.858,21.479 L70.970,21.279 L71.082,21.078 L71.194,20.877 L71.306,20.675 L71.419,20.472 L71.531,20.268 L71.643,20.063 L71.755,19.858 L71.867,19.652 L71.980,19.445 L72.092,19.237 L72.204,19.028 L72.316,18.819 L72.428,18.609 L72.541,18.398 L72.653,18.186 L72.765,17.974 L72.877,17.760 L72.989,17.546 L73.102,17.331 L73.214,17.115 L73.326,16.898 L73.438,16.681 L73.550,16.462 L73.663,16.243 L73.775,16.023 L73.887,15.802 L73.999,15.580 L74.111,15.358 L74.223,15.134 L74.336,14.910 L74.448,14.685 L74.560,14.459 L74.672,14.232 L74.784,14.004 L74.897,13.775 L75.009,13.546 L75.121,13.315 L75.233,13.084 L75.345,12.852 L75.458,12.619 L75.570,12.385 L75.682,12.150 L75.794,11.914 L75.906,11.677 L76.019,11.440 L76.131,11.201 L76.243,10.962 L76.355,10.721 L76.467,10.480 L76.580,10.238 L76.692,9.995 L76.804,9.751 L76.916,9.506 L77.028,9.260 L77.141,9.013 L77.253,8.765 L77.365,8.516 L77.477,8.266 L77.589,8.016 L77.702,7.764 L77.814,7.511 L77.926,7.258 L78.038,7.003 L78.150,6.747 L78.263,6.491 L78.375,6.233 L78.487,5.975 L78.599,5.715 L78.711,5.455 L78.824,5.193"/>
<path stroke-dashoffset="0.035" d="M11.506,68.057 L11.618,68.036 L11.730,68.015 L11.842,67.994 L11.955,67.973 L12.067,67.952 L12.179,67.930 L12.291,67.909 L12.403,67.888 L12.516,67.866 L12.628,67.845 L12.740,67.823 L12.852,67.801 L12.964,67.779 L13.077,67.757 L13.189,67.735 L13.301,67.713 L13.413,67.691 L13.525,67.669 L13.638,67.647 L13.750,67.624 L13.862,67.602 L13.974,67.579 L14.086,67.556 L14.199,67.534 L14.311,67.511 L14.423,67.488 L14.535,67.465 L14.647,67.442 L14.760,67.419 L14.872,67.395 L14.984,67.372 L15.096,67.348 L15.208,67.325 L15.321,67.301 L15.433,67.277 L15.545,67.254 L15.657,67.230 L15.769,67.206 L15.882,67.182 L15.994,67.157 L16.106,67.133 L16.218,67.109 L16.330,67.084 L16.443,67.060 L16.555,67.035 L16.667,67.010 L16.779,66.985 L16.891,66.960 L17.003,66.935 L17.116,66.910 L17.228,66.885 L17.340,66.860 L17.452,66.834 L17.564,66.809 L17.677,66.783 L17.789,66.757 L17.901,66.731 L18.013,66.705 L18.125,66.679 L18.238,66.653 L18.350,66.627 L18.462,66.601 L18.574,66.574 L18.686,66.548 L18.799,66.521 L18.911,66.494 L19.023,66.468 L19.135,66.441 L19.247,66.414 L19.360,66.386 L19.472,66.359 L19.584,66.332 L19.696,66.304 L19.808,66.277 L19.921,66.249 L20.033,66.221 L20.145,66.193 L20.257,66.165 L20.369,66.137 L20.482,66.109 L20.594,66.081 L20.706,66.052 L20.818,66.024 L20.930,65.995 L21.043,65.966 L21.155,65.937 L21.267,65.908 L21.379,65.879 L21.491,65.850 L21.604,65.821 L21.716,65.791 L21.828,65.762 L21.940,65.732 L22.052,65.702 L22.165,65.672 L22.277,65.642 L22.389,65.612 L22.501,65.582 L22.613,65.552 L22.725,65.521 L22.838,65.491 L22.950,65.460 L23.062,65.429 L23.174,65.398 L23.286,65.367 L23.399,65.336 L23.511,65.305 L23.623,65.273 L23.735,65.242 L23.847,65.210 L23.960,65.178 L24.072,65.146 L24.184,65.114 L24.296,65.082 L24.408,65.050 L24.521,65.017 L24.633,64.985 L24.745,64.952 L24.857,64.920 L24.969,64.887 L25.082,64.854 L25.194,64.820 L25.306,64.787 L25.418,64.754 L25.530,64.720 L25.643,64.687 L25.755,64.653 L25.867,64.619 L25.979,64.585 L26.091,64.551 L26.204,64.516 L26.316,64.482 L26.428,64.447 L26.540,64.413 L26.652,64.378 L26.765,64.343 L26.877,64.308 L26.989,64.272 L27.101,64.237 L27.213,64.201 L27.326,64.166 L27.438,64.130 L27.550,64.094 L27.662,64.058 L27.774,64.022 L27.887,63.985 L27.999,63.949 L28.111,63.912 L28.223,63.875 L28.335,63.839 L28.447,63.802 L28.560,63.764 L28.672,63.727 L28.784,63.689 L28.896,63.652 L29.008,63.614 L29.121,63.576 L29.233,63.538 L29.345,63.500 L29.457,63.462 L29.569,63.423 L29.682,63.384 L29.794,63.346 L29.906,63.307 L30.018,63.267 L30.130,63.228 L30.243,63.189 L30.355,63.149 L30.467,63.110 L30.579,63.070 L30.691,63.030 L30.804,62.990 L30.916,62.949 L31.028,62.909 L31.140,62.868 L31.252,62.827 L31.365,62.786 L31.477,62.745 L31.589,62.704 L31.701,62.663 L31.813,62.621 L31.926,62.579 L32.038,62.537 L32.150,62.495 L32.262,62.453 L32.374,62.411 L32.487,62.368 L32.599,62.325 L32.711,62.283 L32.823,62.240 L32.935,62.196 L33.048,62.153 L33.160,62.109 L33.272,62.066 L33.384,62.022 L33.496,61.978 L33.609,61.934 L33.721,61.889 L33.833,61.845 L33.945,61.800 L34.057,61.755 L34.169,61.710 L34.282,61.665 L34.394,61.619 L34.506,61.574 L34.618,61.528 L34.730,61.482 L34.843,61.436 L34.955,61.390 L35.067,61.343 L35.179,61.296 L35.291,61.250 L35.404,61.203 L35.516,61.155 L35.628,61.108 L35.740,61.061 L35.852,61.013 L35.965,60.965 L36.077,60.917 L36.189,60.868 L36.301,60.820 L36.413,60.771 L36.526,60.722 L36.638,60.673 L36.750,60.624 L36.862,60.575 L36.974,60.525 L37.087,60.475 L37.199,60.425 L37.311,60.375 L37.423,60.325 L37.535,60.274 L37.648,60.224 L37.760,60.173 L37.872,60.121 L37.984,60.070 L38.096,60.019 L38.209,59.967 L38.321,59.915 L38.433,59.863 L38.545,59.810 L38.657,59.758 L38.770,59.705 L38.882,59.652 L38.994,59.599 L39.106,59.546 L39.218,59.492 L39.331,59.438 L39.443,59.384 L39.555,59.330 L39.667,59.276 L39.779,59.221 L39.891,59.166 L40.004,59.111 L40.116,59.056 L40.228,59.001 L40.340,58.945 L40.452,58.889 L40.565,58.833 L40.677,58.777 L40.789,58.720 L40.901,58.663 L41.013,58.606 L41.126,58.549 L41.238,58.492 L41.350,58.434 L41.462,58.376 L41.574,58.318 L41.687,58.260 L41.799,58.202 L41.911,58.143 L42.023,58.084 L42.135,58.025 L42.248,57.965 L42.360,57.906 L42.472,57.846 L42.584,57.786 L42.696,57.725 L42.809,57.665 L42.921,57.604 L43.033,57.543 L43.145,57.482 L43.257,57.420 L43.370,57.358 L43.482,57.297 L43.594,57.234 L43.706,57.172 L43.818,57.109 L43.931,57.046 L44.043,56.983 L44.155,56.920 L44.267,56.856 L44.379,56.792 L44.492,56.728 L44.604,56.664 L44.716,56.599 L44.828,56.534 L44.940,56.469 L45.053,56.403 L45.165,56.338 L45.277,56.272 L45.389,56.206 L45.501,56.139 L45.613,56.073 L45.726,56.006 L45.838,55.939 L45.950,55.871 L46.062,55.803 L46.174,55.736 L46.287,55.667 L46.399,55.599 L46.511,55.530 L46.623,55.461 L46.735,55.392 L46.848,55.322 L46.960,55.252 L47.072,55.182 L47.184,55.112 L47.296,55.041 L47.409,54.971 L47.521,54.899 L47.633,54.828 L47.745,54.756 L47.857,54.684 L47.970,54.612 L48.082,54.540 L48.194,54.467 L48.306,54.394 L48.418,54.320 L48.531,54.247 L48.643,54.173 L48.755,54.098 L48.867,54.024 L48.979,53.949 L49.092,53.874 L49.204,53.799 L49.316,53.723 L49.428,53.647 L49.540,53.571 L49.653,53.494 L49.765,53.417 L49.877,53.340 L49.989,53.263 L50.101,53.185 L50.214,53.107 L50.326,53.029 L50.438,52.950 L50.550,52.871 L50.662,52.792 L50.775,52.713 L50.887,52.633 L50.999,52.553 L51.111,52.472 L51.223,52.391 L51.335,52.310 L51.448,52.229 L51.560,52.147 L51.672,52.065 L51.784,51.983 L51.896,51.900 L52.009,51.817 L52.121,51.734 L52.233,51.650 L52.345,51.566 L52.457,51.482 L52.570,51.398 L52.682,51.313 L52.794,51.228 L52.906,51.142 L53.018,51.056 L53.131,50.970 L53.243,50.883 L53.355,50.797 L53.467,50.709 L53.579,50.622 L53.692,50.534 L53.804,50.446 L53.916,50.357 L54.028,50.268 L54.140,50.179 L54.253,50.089 L54.365,50.000 L54.477,49.909 L54.589,49.819 L54.701,49.728 L54.814,49.636 L54.926,49.545 L55.038,49.453 L55.150,49.360 L55.262,49.268 L55.375,49.174 L55.487,49.081 L55.599,48.987 L55.711,48.893 L55.823,48.799 L55.936,48.704 L56.048,48.608 L56.160,48.513 L56.272,48.417 L56.384,48.320 L56.497,48.224 L56.609,48.127 L56.721,48.029 L56.833,47.931 L56.945,47.833 L57.057,47.735 L57.170,47.636 L57.282,47.536 L57.394,47.436 L57.506,47.336 L57.618,47.236 L57.731,47.135 L57.843,47.034 L57.955,46.932 L58.067,46.830 L58.179,46.727 L58.292,46.625 L58.404,46.521 L58.516,46.418 L58.628,46.314 L58.740,46.209 L58.853,46.104 L58.965,45.999 L59.077,45.893 L59.189,45.787 L59.301,45.681 L59.414,45.574 L59.526,45.467 L59.638,45.359 L59.750,45.251 L59.862,45.142 L59.975,45.034 L60.087,44.924 L60.199,44.814 L60.311,44.704 L60.423,44.594 L60.536,44.483 L60.648,44.371 L60.760,44.259 L60.872,44.147 L60.984,44.034 L61.097,43.921 L61.209,43.807 L61.321,43.693 L61.433,43.579 L61.545,43.464 L61.658,43.348 L61.770,43.232 L61.882,43.116 L61.994,42.999 L62.106,42.882 L62.219,42.765 L62.331,42.646 L62.443,42.528 L62.555,42.409 L62.667,42.289 L62.779,42.170 L62.892,42.049 L63.004,41.928 L63.116,41.807 L63.228,41.685 L63.340,41.563 L63.453,41.440 L63.565,41.317 L63.677,41.193 L63.789,41.069 L63.901,40.945 L64.014,40.820 L64.126,40.694 L64.238,40.568 L64.350,40.442 L64.462,40.314 L64.575,40.187 L64.687,40.059 L64.799,39.930 L64.911,39.802 L65.023,39.672 L65.136,39.542 L65.248,39.412 L65.360,39.281 L65.472,39.149 L65.584,39.017 L65.697,38.885 L65.809,38.752 L65.921,38.618 L66.033,38.484 L66.145,38.350 L66.258,38.214 L66.370,38.079 L66.482,37.943 L66.594,37.806 L66.706,37.669 L66.819,37.531 L66.931,37.393 L67.043,37.254 L67.155,37.115 L67.267,36.975 L67.380,36.835 L67.492,36.694 L67.604,36.553 L67.716,36.411 L67.828,36.268 L67.941,36.125 L68.053,35.981 L68.165,35.837 L68.277,35.693 L68.389,35.547 L68.501,35.401 L68.614,35.255 L68.726,35.108 L68.838,34.961 L68.950,34.812 L69.062,34.664 L69.175,34.515 L69.287,34.365 L69.399,34.214 L69.511,34.063 L69.623,33.912 L69.736,33.760 L69.848,33.607 L69.960,33.454 L70.072,33.300 L70.184,33.145 L70.297,32.990 L70.409,32.835 L70.521,32.678 L70.633,32.522 L70.745,32.364 L70.858,32.206 L70.970,32.047 L71.082,31.888 L71.194,31.728 L71.306,31.568 L71.419,31.406 L71.531,31.245 L71.643,31.082 L71.755,30.919 L71.867,30.756 L71.980,30.591 L72.092,30.426 L72.204,30.261 L72.316,30.095 L72.428,29.928 L72.541,29.761 L72.653,29.592 L72.765,29.424 L72.877,29.254 L72.989,29.084 L73.102,28.914 L73.214,28.742 L73.326,28.570 L73.438,28.398 L73.550,28.224 L73.663,28.050 L73.775,27.876 L73.887,27.700 L73.999,27.524 L74.111,27.348 L74.223,27.170 L74.336,26.992 L74.448,26.813 L74.560,26.634 L74.672,26.454 L74.784,26.273 L74.897,26.092 L75.009,25.909 L75.121,25.727 L75.233,25.543 L75.345,25.359 L75.458,25.174 L75.570,24.988 L75.682,24.801 L75.794,24.614 L75.906,24.426 L76.019,24.238 L76.131,24.049 L76.243,23.858 L76.355,23.668 L76.467,23.476 L76.580,23.284 L76.692,23.091 L76.804,22.897 L76.916,22.703 L77.028,22.508 L77.141,22.312 L77.253,22.115 L77.365,21.917 L77.477,21.719 L77.589,21.520 L77.702,21.320 L77.814,21.120 L77.926,20.918 L78.038,20.716 L78.150,20.513 L78.263,20.310 L78.375,20.105 L78.487,19.900 L78.599,19.694 L78.711,19.487 L78.824,19.280"/>
<path stroke-dashoffset="0.775" d="M11.506,69.175 L11.618,69.158 L11.730,69.141 L11.842,69.125 L11.955,69.108 L12.067,69.091 L12.179,69.074 L12.291,69.058 L12.403,69.041 L12.516,69.023 L12.628,69.006 L12.740,68.989 L12.852,68.972 L12.964,68.955 L13.077,68.937 L13.189,68.920 L13.301,68.902 L13.413,68.885 L13.525,68.867 L13.638,68.849 L13.750,68.831 L13.862,68.814 L13.974,68.796 L14.086,68.778 L14.199,68.760 L14.311,68.741 L14.423,68.723 L14.535,68.705 L14.647,68.687 L14.760,68.668 L14.872,68.650 L14.984,68.631 L15.096,68.613 L15.208,68.594 L15.321,68.575 L15.433,68.556 L15.545,68.537 L15.657,68.518 L15.769,68.499 L15.882,68.480 L15.994,68.461 L16.106,68.442 L16.218,68.422 L16.330,68.403 L16.443,68.383 L16.555,68.364 L16.667,68.344 L16.779,68.324 L16.891,68.305 L17.003,68.285 L17.116,68.265 L17.228,68.245 L17.340,68.225 L17.452,68.204 L17.564,68.184 L17.677,68.164 L17.789,68.143 L17.901,68.123 L18.013,68.102 L18.125,68.082 L18.238,68.061 L18.350,68.040 L18.462,68.019 L18.574,67.998 L18.686,67.977 L18.799,67.956 L18.911,67.935 L19.023,67.913 L19.135,67.892 L19.247,67.871 L19.360,67.849 L19.472,67.827 L19.584,67.806 L19.696,67.784 L19.808,67.762 L19.921,67.740 L20.033,67.718 L20.145,67.696 L20.257,67.674 L20.369,67.651 L20.482,67.629 L20.594,67.606 L20.706,67.584 L20.818,67.561 L20.930,67.538 L21.043,67.516 L21.155,67.493 L21.267,67.470 L21.379,67.447 L21.491,67.423 L21.604,67.400 L21.716,67.377 L21.828,67.353 L21.940,67.330 L22.052,67.306 L22.165,67.282 L22.277,67.259 L22.389,67.235 L22.501,67.211 L22.613,67.187 L22.725,67.162 L22.838,67.138 L22.950,67.114 L23.062,67.089 L23.174,67.065 L23.286,67.040 L23.399,67.015 L23.511,66.990 L23.623,66.966 L23.735,66.940 L23.847,66.915 L23.960,66.890 L24.072,66.865 L24.184,66.839 L24.296,66.814 L24.408,66.788 L24.521,66.763 L24.633,66.737 L24.745,66.711 L24.857,66.685 L24.969,66.659 L25.082,66.632 L25.194,66.606 L25.306,66.580 L25.418,66.553 L25.530,66.527 L25.643,66.500 L25.755,66.473 L25.867,66.446 L25.979,66.419 L26.091,66.392 L26.204,66.365 L26.316,66.337 L26.428,66.310 L26.540,66.282 L26.652,66.255 L26.765,66.227 L26.877,66.199 L26.989,66.171 L27.101,66.143 L27.213,66.115 L27.326,66.086 L27.438,66.058 L27.550,66.030 L27.662,66.001 L27.774,65.972 L27.887,65.943 L27.999,65.914 L28.111,65.885 L28.223,65.856 L28.335,65.827 L28.447,65.797 L28.560,65.768 L28.672,65.738 L28.784,65.708 L28.896,65.679 L29.008,65.649 L29.121,65.619 L29.233,65.588 L29.345,65.558 L29.457,65.528 L29.569,65.497 L29.682,65.466 L29.794,65.435 L29.906,65.405 L30.018,65.374 L30.130,65.342 L30.243,65.311 L30.355,65.280 L30.467,65.248 L30.579,65.217 L30.691,65.185 L30.804,65.153 L30.916,65.121 L31.028,65.089 L31.140,65.057 L31.252,65.024 L31.365,64.992 L31.477,64.959 L31.589,64.926 L31.701,64.893 L31.813,64.860 L31.926,64.827 L32.038,64.794 L32.150,64.761 L32.262,64.727 L32.374,64.694 L32.487,64.660 L32.599,64.626 L32.711,64.592 L32.823,64.558 L32.935,64.523 L33.048,64.489 L33.160,64.454 L33.272,64.420 L33.384,64.385 L33.496,64.350 L33.609,64.315 L33.721,64.280 L33.833,64.244 L33.945,64.209 L34.057,64.173 L34.169,64.137 L34.282,64.101 L34.394,64.065 L34.506,64.029 L34.618,63.993 L34.730,63.956 L34.843,63.920 L34.955,63.883 L35.067,63.846 L35.179,63.809 L35.291,63.772 L35.404,63.735 L35.516,63.697 L35.628,63.660 L35.740,63.622 L35.852,63.584 L35.965,63.546 L36.077,63.508 L36.189,63.469 L36.301,63.431 L36.413,63.392 L36.526,63.354 L36.638,63.315 L36.750,63.276 L36.862,63.236 L36.974,63.197 L37.087,63.157 L37.199,63.118 L37.311,63.078 L37.423,63.038 L37.535,62.998 L37.648,62.958 L37.760,62.917 L37.872,62.876 L37.984,62.836 L38.096,62.795 L38.209,62.754 L38.321,62.713 L38.433,62.671 L38.545,62.630 L38.657,62.588 L38.770,62.546 L38.882,62.504 L38.994,62.462 L39.106,62.419 L39.218,62.377 L39.331,62.334 L39.443,62.291 L39.555,62.248 L39.667,62.205 L39.779,62.162 L39.891,62.118 L40.004,62.075 L40.116,62.031 L40.228,61.987 L40.340,61.943 L40.452,61.898 L40.565,61.854 L40.677,61.809 L40.789,61.764 L40.901,61.719 L41.013,61.674 L41.126,61.629 L41.238,61.583 L41.350,61.537 L41.462,61.492 L41.574,61.445 L41.687,61.399 L41.799,61.353 L41.911,61.306 L42.023,61.259 L42.135,61.212 L42.248,61.165 L42.360,61.118 L42.472,61.070 L42.584,61.023 L42.696,60.975 L42.809,60.927 L42.921,60.878 L43.033,60.830 L43.145,60.781 L43.257,60.733 L43.370,60.684 L43.482,60.634 L43.594,60.585 L43.706,60.535 L43.818,60.486 L43.931,60.436 L44.043,60.386 L44.155,60.335 L44.267,60.285 L44.379,60.234 L44.492,60.183 L44.604,60.132 L44.716,60.081 L44.828,60.029 L44.940,59.977 L45.053,59.926 L45.165,59.873 L45.277,59.821 L45.389,59.769 L45.501,59.716 L45.613,59.663 L45.726,59.610 L45.838,59.557 L45.950,59.503 L46.062,59.449 L46.174,59.395 L46.287,59.341 L46.399,59.287 L46.511,59.232 L46.623,59.178 L46.735,59.123 L46.848,59.067 L46.960,59.012 L47.072,58.956 L47.184,58.901 L47.296,58.845 L47.409,58.788 L47.521,58.732 L47.633,58.675 L47.745,58.618 L47.857,58.561 L47.970,58.504 L48.082,58.446 L48.194,58.388 L48.306,58.330 L48.418,58.272 L48.531,58.214 L48.643,58.155 L48.755,58.096 L48.867,58.037 L48.979,57.978 L49.092,57.918 L49.204,57.858 L49.316,57.798 L49.428,57.738 L49.540,57.677 L49.653,57.617 L49.765,57.556 L49.877,57.494 L49.989,57.433 L50.101,57.371 L50.214,57.309 L50.326,57.247 L50.438,57.185 L50.550,57.122 L50.662,57.059 L50.775,56.996 L50.887,56.933 L50.999,56.869 L51.111,56.805 L51.223,56.741 L51.335,56.677 L51.448,56.612 L51.560,56.547 L51.672,56.482 L51.784,56.417 L51.896,56.351 L52.009,56.285 L52.121,56.219 L52.233,56.153 L52.345,56.086 L52.457,56.020 L52.570,55.952 L52.682,55.885 L52.794,55.817 L52.906,55.750 L53.018,55.681 L53.131,55.613 L53.243,55.544 L53.355,55.475 L53.467,55.406 L53.579,55.337 L53.692,55.267 L53.804,55.197 L53.916,55.127 L54.028,55.056 L54.140,54.985 L54.253,54.914 L54.365,54.843 L54.477,54.771 L54.589,54.699 L54.701,54.627 L54.814,54.554 L54.926,54.482 L55.038,54.409 L55.150,54.335 L55.262,54.262 L55.375,54.188 L55.487,54.114 L55.599,54.039 L55.711,53.965 L55.823,53.890 L55.936,53.814 L56.048,53.739 L56.160,53.663 L56.272,53.587 L56.384,53.510 L56.497,53.433 L56.609,53.356 L56.721,53.279 L56.833,53.201 L56.945,53.123 L57.057,53.045 L57.170,52.966 L57.282,52.888 L57.394,52.808 L57.506,52.729 L57.618,52.649 L57.731,52.569 L57.843,52.489 L57.955,52.408 L58.067,52.327 L58.179,52.246 L58.292,52.164 L58.404,52.082 L58.516,52.000 L58.628,51.917 L58.740,51.834 L58.853,51.751 L58.965,51.668 L59.077,51.584 L59.189,51.500 L59.301,51.415 L59.414,51.330 L59.526,51.245 L59.638,51.160 L59.750,51.074 L59.862,50.988 L59.975,50.901 L60.087,50.814 L60.199,50.727 L60.311,50.640 L60.423,50.552 L60.536,50.464 L60.648,50.375 L60.760,50.287 L60.872,50.197 L60.984,50.108 L61.097,50.018 L61.209,49.928 L61.321,49.837 L61.433,49.746 L61.545,49.655 L61.658,49.564 L61.770,49.472 L61.882,49.379 L61.994,49.287 L62.106,49.194 L62.219,49.100 L62.331,49.007 L62.443,48.913 L62.555,48.818 L62.667,48.723 L62.779,48.628 L62.892,48.533 L63.004,48.437 L63.116,48.340 L63.228,48.244 L63.340,48.147 L63.453,48.049 L63.565,47.952 L63.677,47.853 L63.789,47.755 L63.901,47.656 L64.014,47.557 L64.126,47.457 L64.238,47.357 L64.350,47.257 L64.462,47.156 L64.575,47.055 L64.687,46.953 L64.799,46.851 L64.911,46.749 L65.023,46.646 L65.136,46.543 L65.248,46.439 L65.360,46.335 L65.472,46.231 L65.584,46.126 L65.697,46.021 L65.809,45.915 L65.921,45.809 L66.033,45.703 L66.145,45.596 L66.258,45.489 L66.370,45.381 L66.482,45.273 L66.594,45.165 L66.706,45.056 L66.819,44.947 L66.931,44.837 L67.043,44.727 L67.155,44.616 L67.267,44.505 L67.380,44.394 L67.492,44.282 L67.604,44.170 L67.716,44.057 L67.828,43.944 L67.941,43.831 L68.053,43.717 L68.165,43.602 L68.277,43.487 L68.389,43.372 L68.501,43.256 L68.614,43.140 L68.726,43.023 L68.838,42.906 L68.950,42.789 L69.062,42.671 L69.175,42.552 L69.287,42.433 L69.399,42.314 L69.511,42.194 L69.623,42.074 L69.736,41.953 L69.848,41.832 L69.960,41.710 L70.072,41.588 L70.184,41.466 L70.297,41.343 L70.409,41.219 L70.521,41.095 L70.633,40.970 L70.745,40.845 L70.858,40.720 L70.970,40.594 L71.082,40.468 L71.194,40.341 L71.306,40.213 L71.419,40.085 L71.531,39.957 L71.643,39.828 L71.755,39.699 L71.867,39.569 L71.980,39.438 L72.092,39.308 L72.204,39.176 L72.316,39.044 L72.428,38.912 L72.541,38.779 L72.653,38.646 L72.765,38.512 L72.877,38.377 L72.989,38.242 L73.102,38.107 L73.214,37.971 L73.326,37.834 L73.438,37.697 L73.550,37.560 L73.663,37.422 L73.775,37.283 L73.887,37.144 L73.999,37.004 L74.111,36.864 L74.223,36.723 L74.336,36.582 L74.448,36.440 L74.560,36.298 L74.672,36.155 L74.784,36.011 L74.897,35.867 L75.009,35.722 L75.121,35.577 L75.233,35.432 L75.345,35.285 L75.458,35.138 L75.570,34.991 L75.682,34.843 L75.794,34.694 L75.906,34.545 L76.019,34.396 L76.131,34.245 L76.243,34.095 L76.355,33.943 L76.467,33.791 L76.580,33.639 L76.692,33.485 L76.804,33.332 L76.916,33.177 L77.028,33.022 L77.141,32.867 L77.253,32.711 L77.365,32.554 L77.477,32.397 L77.589,32.239 L77.702,32.080 L77.814,31.921 L77.926,31.761 L78.038,31.601 L78.150,31.440 L78.263,31.278 L78.375,31.116 L78.487,30.953 L78.599,30.789 L78.711,30.625 L78.824,30.461"/>
<path stroke-dashoffset="0.685" d="M12.135,69.988 L12.246,69.975 L12.357,69.961 L12.468,69.948 L12.579,69.934 L12.691,69.921 L12.802,69.907 L12.913,69.894 L13.024,69.880 L13.135,69.866 L13.246,69.853 L13.357,69.839 L13.469,69.825 L13.580,69.811 L13.691,69.797 L13.802,69.783 L13.913,69.769 L14.024,69.755 L14.135,69.741 L14.247,69.726 L14.358,69.712 L14.469,69.698 L14.580,69.683 L14.691,69.669 L14.802,69.655 L14.914,69.640 L15.025,69.625 L15.136,69.611 L15.247,69.596 L15.358,69.581 L15.469,69.566 L15.580,69.551 L15.692,69.537 L15.803,69.522 L15.914,69.506 L16.025,69.491 L16.136,69.476 L16.247,69.461 L16.358,69.446 L16.470,69.430 L16.581,69.415 L16.692,69.399 L16.803,69.384 L16.914,69.368 L17.025,69.353 L17.136,69.337 L17.248,69.321 L17.359,69.305 L17.470,69.289 L17.581,69.273 L17.692,69.257 L17.803,69.241 L17.915,69.225 L18.026,69.209 L18.137,69.193 L18.248,69.177 L18.359,69.160 L18.470,69.144 L18.581,69.127 L18.693,69.111 L18.804,69.094 L18.915,69.077 L19.026,69.061 L19.137,69.044 L19.248,69.027 L19.359,69.010 L19.471,68.993 L19.582,68.976 L19.693,68.959 L19.804,68.941 L19.915,68.924 L20.026,68.907 L20.137,68.889 L20.249,68.872 L20.360,68.854 L20.471,68.837 L20.582,68.819 L20.693,68.801 L20.804,68.784 L20.916,68.766 L21.027,68.748 L21.138,68.730 L21.249,68.712 L21.360,68.694 L21.471,68.675 L21.582,68.657 L21.694,68.639 L21.805,68.620 L21.916,68.602 L22.027,68.583 L22.138,68.565 L22.249,68.546 L22.360,68.527 L22.472,68.508 L22.583,68.489 L22.694,68.470 L22.805,68.451 L22.916,68.432 L23.027,68.413 L23.138,68.394 L23.250,68.374 L23.361,68.355 L23.472,68.335 L23.583,68.316 L23.694,68.296 L23.805,68.276 L23.916,68.257 L24.028,68.237 L24.139,68.217 L24.250,68.197 L24.361,68.177 L24.472,68.156 L24.583,68.136 L24.695,68.116 L24.806,68.095 L24.917,68.075 L25.028,68.054 L25.139,68.034 L25.250,68.013 L25.361,67.992 L25.473,67.971 L25.584,67.950 L25.695,67.929 L25.806,67.908 L25.917,67.887 L26.028,67.866 L26.139,67.844 L26.251,67.823 L26.362,67.801 L26.473,67.780 L26.584,67.758 L26.695,67.736 L26.806,67.714 L26.917,67.692 L27.029,67.670 L27.140,67.648 L27.251,67.626 L27.362,67.604 L27.473,67.581 L27.584,67.559 L27.696,67.536 L27.807,67.514 L27.918,67.491 L28.029,67.468 L28.140,67.445 L28.251,67.422 L28.362,67.399 L28.474,67.376 L28.585,67.353 L28.696,67.330 L28.807,67.306 L28.918,67.283 L29.029,67.259 L29.140,67.235 L29.252,67.212 L29.363,67.188 L29.474,67.164 L29.585,67.140 L29.696,67.116 L29.807,67.091 L29.918,67.067 L30.030,67.043 L30.141,67.018 L30.252,66.994 L30.363,66.969 L30.474,66.944 L30.585,66.919 L30.697,66.894 L30.808,66.869 L30.919,66.844 L31.030,66.819 L31.141,66.793 L31.252,66.768 L31.363,66.742 L31.475,66.717 L31.586,66.691 L31.697,66.665 L31.808,66.639 L31.919,66.613 L32.030,66.587 L32.141,66.561 L32.253,66.534 L32.364,66.508 L32.475,66.481 L32.586,66.455 L32.697,66.428 L32.808,66.401 L32.919,66.374 L33.031,66.347 L33.142,66.320 L33.253,66.293 L33.364,66.265 L33.475,66.238 L33.586,66.210 L33.698,66.183 L33.809,66.155 L33.920,66.127 L34.031,66.099 L34.142,66.071 L34.253,66.043 L34.364,66.014 L34.476,65.986 L34.587,65.957 L34.698,65.929 L34.809,65.900 L34.920,65.871 L35.031,65.842 L35.142,65.813 L35.254,65.784 L35.365,65.755 L35.476,65.725 L35.587,65.696 L35.698,65.666 L35.809,65.636 L35.920,65.606 L36.032,65.576 L36.143,65.546 L36.254,65.516 L36.365,65.486 L36.476,65.455 L36.587,65.425 L36.698,65.394 L36.810,65.363 L36.921,65.333 L37.032,65.301 L37.143,65.270 L37.254,65.239 L37.365,65.208 L37.477,65.176 L37.588,65.145 L37.699,65.113 L37.810,65.081 L37.921,65.049 L38.032,65.017 L38.143,64.985 L38.255,64.952 L38.366,64.920 L38.477,64.887 L38.588,64.855 L38.699,64.822 L38.810,64.789 L38.921,64.756 L39.033,64.722 L39.144,64.689 L39.255,64.656 L39.366,64.622 L39.477,64.588 L39.588,64.555 L39.699,64.521 L39.811,64.486 L39.922,64.452 L40.033,64.418 L40.144,64.383 L40.255,64.349 L40.366,64.314 L40.478,64.279 L40.589,64.244 L40.700,64.209 L40.811,64.173 L40.922,64.138 L41.033,64.102 L41.144,64.067 L41.256,64.031 L41.367,63.995 L41.478,63.959 L41.589,63.923 L41.700,63.886 L41.811,63.850 L41.922,63.813 L42.034,63.776 L42.145,63.739 L42.256,63.702 L42.367,63.665 L42.478,63.628 L42.589,63.590 L42.700,63.552 L42.812,63.515 L42.923,63.477 L43.034,63.439 L43.145,63.400 L43.256,63.362 L43.367,63.323 L43.479,63.285 L43.590,63.246 L43.701,63.207 L43.812,63.168 L43.923,63.129 L44.034,63.089 L44.145,63.050 L44.257,63.010 L44.368,62.970 L44.479,62.930 L44.590,62.890 L44.701,62.850 L44.812,62.809 L44.923,62.768 L45.035,62.728 L45.146,62.687 L45.257,62.646 L45.368,62.604 L45.479,62.563 L45.590,62.521 L45.701,62.480 L45.813,62.438 L45.924,62.396 L46.035,62.353 L46.146,62.311 L46.257,62.269 L46.368,62.226 L46.480,62.183 L46.591,62.140 L46.702,62.097 L46.813,62.054 L46.924,62.010 L47.035,61.966 L47.146,61.922 L47.258,61.878 L47.369,61.834 L47.480,61.790 L47.591,61.745 L47.702,61.701 L47.813,61.656 L47.924,61.611 L48.036,61.566 L48.147,61.520 L48.258,61.475 L48.369,61.429 L48.480,61.383 L48.591,61.337 L48.702,61.291 L48.814,61.244 L48.925,61.198 L49.036,61.151 L49.147,61.104 L49.258,61.057 L49.369,61.010 L49.480,60.962 L49.592,60.915 L49.703,60.867 L49.814,60.819 L49.925,60.770 L50.036,60.722 L50.147,60.674 L50.259,60.625 L50.370,60.576 L50.481,60.527 L50.592,60.477 L50.703,60.428 L50.814,60.378 L50.925,60.328 L51.037,60.278 L51.148,60.228 L51.259,60.177 L51.370,60.127 L51.481,60.076 L51.592,60.025 L51.703,59.974 L51.815,59.922 L51.926,59.871 L52.037,59.819 L52.148,59.767 L52.259,59.715 L52.370,59.662 L52.481,59.609 L52.593,59.557 L52.704,59.504 L52.815,59.450 L52.926,59.397 L53.037,59.343 L53.148,59.290 L53.260,59.235 L53.371,59.181 L53.482,59.127 L53.593,59.072 L53.704,59.017 L53.815,58.962 L53.926,58.907 L54.038,58.851 L54.149,58.796 L54.260,58.740 L54.371,58.684 L54.482,58.627 L54.593,58.571 L54.704,58.514 L54.816,58.457 L54.927,58.400 L55.038,58.342 L55.149,58.285 L55.260,58.227 L55.371,58.169 L55.482,58.110 L55.594,58.052 L55.705,57.993 L55.816,57.934 L55.927,57.875 L56.038,57.816 L56.149,57.756 L56.261,57.696 L56.372,57.636 L56.483,57.576 L56.594,57.515 L56.705,57.454 L56.816,57.393 L56.927,57.332 L57.039,57.270 L57.150,57.209 L57.261,57.147 L57.372,57.085 L57.483,57.022 L57.594,56.959 L57.705,56.897 L57.817,56.833 L57.928,56.770 L58.039,56.706 L58.150,56.642 L58.261,56.578 L58.372,56.514 L58.483,56.449 L58.595,56.385 L58.706,56.319 L58.817,56.254 L58.928,56.188 L59.039,56.123 L59.150,56.057 L59.262,55.990 L59.373,55.924 L59.484,55.857 L59.595,55.790 L59.706,55.722 L59.817,55.655 L59.928,55.587 L60.040,55.519 L60.151,55.450 L60.262,55.382 L60.373,55.313 L60.484,55.243 L60.595,55.174 L60.706,55.104 L60.818,55.034 L60.929,54.964 L61.040,54.894 L61.151,54.823 L61.262,54.752 L61.373,54.680 L61.484,54.609 L61.596,54.537 L61.707,54.465 L61.818,54.392 L61.929,54.320 L62.040,54.247 L62.151,54.173 L62.263,54.100 L62.374,54.026 L62.485,53.952 L62.596,53.878 L62.707,53.803 L62.818,53.728 L62.929,53.653 L63.041,53.577 L63.152,53.502 L63.263,53.425 L63.374,53.349 L63.485,53.272 L63.596,53.195 L63.707,53.118 L63.819,53.041 L63.930,52.963 L64.041,52.885 L64.152,52.806 L64.263,52.728 L64.374,52.649 L64.485,52.569 L64.597,52.490 L64.708,52.410 L64.819,52.329 L64.930,52.249 L65.041,52.168 L65.152,52.087 L65.263,52.005 L65.375,51.924 L65.486,51.841 L65.597,51.759 L65.708,51.676 L65.819,51.593 L65.930,51.510 L66.042,51.426 L66.153,51.342 L66.264,51.258 L66.375,51.173 L66.486,51.088 L66.597,51.003 L66.708,50.917 L66.820,50.832 L66.931,50.745 L67.042,50.659 L67.153,50.572 L67.264,50.485 L67.375,50.397 L67.486,50.309 L67.598,50.221 L67.709,50.132 L67.820,50.043 L67.931,49.954 L68.042,49.864 L68.153,49.775 L68.264,49.684 L68.376,49.594 L68.487,49.503 L68.598,49.411 L68.709,49.320 L68.820,49.228 L68.931,49.135 L69.043,49.043 L69.154,48.950 L69.265,48.856 L69.376,48.762 L69.487,48.668 L69.598,48.574 L69.709,48.479 L69.821,48.384 L69.932,48.288 L70.043,48.192 L70.154,48.096 L70.265,47.999 L70.376,47.902 L70.487,47.805 L70.599,47.707 L70.710,47.609 L70.821,47.510 L70.932,47.411 L71.043,47.312 L71.154,47.212 L71.265,47.112 L71.377,47.012 L71.488,46.911 L71.599,46.810 L71.710,46.708 L71.821,46.606 L71.932,46.504 L72.044,46.401 L72.155,46.298 L72.266,46.195 L72.377,46.091 L72.488,45.986 L72.599,45.882 L72.710,45.777 L72.822,45.671 L72.933,45.565 L73.044,45.459 L73.155,45.352 L73.266,45.245 L73.377,45.138 L73.488,45.030 L73.600,44.921 L73.711,44.812 L73.822,44.703 L73.933,44.594 L74.044,44.484 L74.155,44.373 L74.266,44.262 L74.378,44.151 L74.489,44.039 L74.600,43.927 L74.711,43.815 L74.822,43.702 L74.933,43.588 L75.045,43.474 L75.156,43.360 L75.267,43.245 L75.378,43.130 L75.489,43.015 L75.600,42.899 L75.711,42.782 L75.823,42.665 L75.934,42.548 L76.045,42.430 L76.156,42.312 L76.267,42.193 L76.378,42.074 L76.489,41.954 L76.601,41.834 L76.712,41.714 L76.823,41.593 L76.934,41.471 L77.045,41.350 L77.156,41.227 L77.267,41.104 L77.379,40.981 L77.490,40.857 L77.601,40.733 L77.712,40.608 L77.823,40.483 L77.934,40.357 L78.045,40.231 L78.157,40.105 L78.268,39.977 L78.379,39.850 L78.490,39.722 L78.601,39.593 L78.712,39.464 L78.824,39.335"/>
</g></g>
<g fill="#000">
<text x="125.38" y="271.60" font-size="21">0.03</text>
<text x="155.07" y="306.25" font-size="21">0.06</text>
<text x="182.03" y="335.15" font-size="21">0.13</text>
<text x="212.38" y="366.05" font-size="21">0.25</text>
<text x="241.25" y="397.50" font-size="21">0.5</text>
<text x="268.98" y="426.10" font-size="21">1</text>
<text x="353.52" y="400.68" font-size="21">2</text>
<text x="387.75" y="415.25" font-size="21">4</text>
<text x="420.27" y="431.95" font-size="21">8</text>
<text x="446.20" y="446.45" font-size="21">16</text>
<text x="481.57" y="461.15" font-size="21">32</text>
</g>
<g stroke="#0000e6" stroke-width="1.6" fill="none"><line x1="329.2" y1="21.7" x2="329.2" y2="161.5"/><line x1="325.0" y1="21.7" x2="333.4" y2="21.7"/><line x1="325.0" y1="161.5" x2="333.4" y2="161.5"/><line x1="318.8" y1="95.9" x2="339.3" y2="95.9"/><line x1="318.8" y1="91.7" x2="318.8" y2="100.10000000000001"/><line x1="339.3" y1="91.7" x2="339.3" y2="100.10000000000001"/></g>
<rect x="324.1" y="91.1" width="9.8" height="9.8" fill="none" stroke="#0000e6" stroke-width="1.6"/>
<g stroke="#22e022" stroke-width="1.6" fill="none"><line x1="330.8" y1="135.9" x2="330.8" y2="195.2"/><line x1="326.6" y1="135.9" x2="335.0" y2="135.9"/><line x1="326.6" y1="195.2" x2="335.0" y2="195.2"/><line x1="319.8" y1="167.2" x2="341.2" y2="167.2"/><line x1="319.8" y1="163.0" x2="319.8" y2="171.39999999999998"/><line x1="341.2" y1="163.0" x2="341.2" y2="171.39999999999998"/></g>
<path d="M330.7,162.9 L335.9,170.3 L325.5,170.3 Z" fill="none" stroke="#22e022" stroke-width="1.6"/>
<g stroke="#e600e6" stroke-width="1.6" fill="none"><line x1="329.1" y1="12.8" x2="329.1" y2="67.5"/><line x1="324.90000000000003" y1="12.8" x2="333.3" y2="12.8"/><line x1="324.90000000000003" y1="67.5" x2="333.3" y2="67.5"/><line x1="318.8" y1="40" x2="337.5" y2="40"/><line x1="318.8" y1="35.8" x2="318.8" y2="44.2"/><line x1="337.5" y1="35.8" x2="337.5" y2="44.2"/></g>
<path d="M323.2,37.2 L334.8,37.2 L329,44.5 Z" fill="none" stroke="#e600e6" stroke-width="1.6"/>
<g fill="#f00">
<circle cx="416.5" cy="90.1" r="5.3"/>
<circle cx="337.1" cy="193" r="5.3"/>
<circle cx="397.5" cy="195.8" r="5.3"/>
<circle cx="378.5" cy="212.9" r="5.3"/>
<circle cx="434.3" cy="227" r="5.3"/>
<circle cx="456.7" cy="229.9" r="5.3"/>
<circle cx="331" cy="252.5" r="5.3"/>
<circle cx="429.2" cy="267.4" r="5.3"/>
<circle cx="454.5" cy="267.4" r="5.3"/>
<circle cx="557.4" cy="241.5" r="5.3"/>
<circle cx="480.7" cy="292.7" r="5.3"/>
<circle cx="305.8" cy="307.2" r="5.3"/>
<circle cx="323.5" cy="301.4" r="5.3"/>
<circle cx="374.9" cy="313.6" r="5.3"/>
<circle cx="380.4" cy="309.9" r="5.3"/>
<circle cx="384.7" cy="338.4" r="5.3"/>
</g>
<g fill="none" stroke="#1c1c1c" stroke-width="1.1">
<circle cx="381" cy="87.4" r="5.05"/>
<circle cx="512.7" cy="141.6" r="5.05"/>
<circle cx="390.5" cy="175.9" r="5.05"/>
<circle cx="422.7" cy="173.1" r="5.05"/>
<circle cx="487.5" cy="181.3" r="5.05"/>
<circle cx="367.7" cy="201.6" r="5.05"/>
<circle cx="390.5" cy="212.9" r="5.05"/>
<circle cx="392.9" cy="221.3" r="5.05"/>
<circle cx="357.4" cy="224.7" r="5.05"/>
<circle cx="409.3" cy="230.1" r="5.05"/>
<circle cx="375" cy="235.8" r="5.05"/>
<circle cx="403.2" cy="238.9" r="5.05"/>
<circle cx="392.9" cy="241.4" r="5.05"/>
<circle cx="356.5" cy="238.9" r="5.05"/>
<circle cx="350" cy="241.2" r="5.05"/>
<circle cx="435.5" cy="212.4" r="5.05"/>
<circle cx="432.4" cy="218.6" r="5.05"/>
<circle cx="442.3" cy="230.1" r="5.05"/>
<circle cx="334.5" cy="249.3" r="5.05"/>
<circle cx="361" cy="261.5" r="5.05"/>
<circle cx="375.5" cy="258.4" r="5.05"/>
<circle cx="379.5" cy="264.8" r="5.05"/>
<circle cx="398.9" cy="264.4" r="5.05"/>
<circle cx="388.9" cy="278.5" r="5.05"/>
<circle cx="398.4" cy="276.1" r="5.05"/>
<circle cx="394.3" cy="290.3" r="5.05"/>
<circle cx="410.7" cy="290.3" r="5.05"/>
<circle cx="335.6" cy="295.9" r="5.05"/>
<circle cx="347.2" cy="293.1" r="5.05"/>
<circle cx="323.5" cy="301.4" r="5.05"/>
<circle cx="341.6" cy="324.7" r="5.05"/>
<circle cx="345.7" cy="347.2" r="5.05"/>
<circle cx="370.7" cy="347.2" r="5.05"/>
<circle cx="484.7" cy="310.5" r="5.05"/>
<circle cx="502.7" cy="307.1" r="5.05"/>
<circle cx="498.8" cy="370.2" r="5.05"/>
<circle cx="592.7" cy="253.1" r="5.05"/>
<circle cx="576.1" cy="278.6" r="5.05"/>
<circle cx="566.8" cy="330.2" r="5.05"/>
<circle cx="642.6" cy="312.8" r="5.05"/>
<circle cx="258.9" cy="327.6" r="5.05"/>
<circle cx="303.5" cy="415.8" r="5.05"/>
<circle cx="167.9" cy="475.9" r="5.05"/>
<circle cx="179.4" cy="481.8" r="5.05"/>
<circle cx="122" cy="556" r="5.05"/>
</g>
<g fill="#888">
<rect x="380.5" y="86.9" width="1" height="1"/>
<rect x="512.2" y="141.1" width="1" height="1"/>
<rect x="390.0" y="175.4" width="1" height="1"/>
<rect x="422.2" y="172.6" width="1" height="1"/>
<rect x="487.0" y="180.8" width="1" height="1"/>
<rect x="367.2" y="201.1" width="1" height="1"/>
<rect x="390.0" y="212.4" width="1" height="1"/>
<rect x="392.4" y="220.8" width="1" height="1"/>
<rect x="356.9" y="224.2" width="1" height="1"/>
<rect x="408.8" y="229.6" width="1" height="1"/>
<rect x="374.5" y="235.3" width="1" height="1"/>
<rect x="402.7" y="238.4" width="1" height="1"/>
<rect x="392.4" y="240.9" width="1" height="1"/>
<rect x="356.0" y="238.4" width="1" height="1"/>
<rect x="349.5" y="240.7" width="1" height="1"/>
<rect x="435.0" y="211.9" width="1" height="1"/>
<rect x="431.9" y="218.1" width="1" height="1"/>
<rect x="441.8" y="229.6" width="1" height="1"/>
<rect x="334.0" y="248.8" width="1" height="1"/>
<rect x="360.5" y="261.0" width="1" height="1"/>
<rect x="375.0" y="257.9" width="1" height="1"/>
<rect x="379.0" y="264.3" width="1" height="1"/>
<rect x="398.4" y="263.9" width="1" height="1"/>
<rect x="388.4" y="278.0" width="1" height="1"/>
<rect x="397.9" y="275.6" width="1" height="1"/>
<rect x="393.8" y="289.8" width="1" height="1"/>
<rect x="410.2" y="289.8" width="1" height="1"/>
<rect x="335.1" y="295.4" width="1" height="1"/>
<rect x="346.7" y="292.6" width="1" height="1"/>
<rect x="323.0" y="300.9" width="1" height="1"/>
<rect x="341.1" y="324.2" width="1" height="1"/>
<rect x="345.2" y="346.7" width="1" height="1"/>
<rect x="370.2" y="346.7" width="1" height="1"/>
<rect x="484.2" y="310.0" width="1" height="1"/>
<rect x="502.2" y="306.6" width="1" height="1"/>
<rect x="498.3" y="369.7" width="1" height="1"/>
<rect x="592.2" y="252.6" width="1" height="1"/>
<rect x="575.6" y="278.1" width="1" height="1"/>
<rect x="566.3" y="329.7" width="1" height="1"/>
<rect x="642.1" y="312.3" width="1" height="1"/>
<rect x="258.4" y="327.1" width="1" height="1"/>
<rect x="303.0" y="415.3" width="1" height="1"/>
<rect x="167.4" y="475.4" width="1" height="1"/>
<rect x="178.9" y="481.3" width="1" height="1"/>
<rect x="121.5" y="555.5" width="1" height="1"/>
</g>
<g fill="#6e6e6e">
<path d="M388.4,311.1 L393.29999999999995,316 L388.4,320.9 L383.5,316 Z"/>
<path d="M288.2,356.1 L293.09999999999997,361 L288.2,365.9 L283.3,361 Z"/>
<path d="M132.8,494.8 L137.70000000000002,499.7 L132.8,504.59999999999997 L127.9,499.7 Z"/>
<path d="M146.7,497.8 L151.6,502.7 L146.7,507.59999999999997 L141.79999999999998,502.7 Z"/>
</g>
<g fill="#000">
<text x="348.23" y="93.90" font-size="21">T4</text>
<text x="425.12" y="97.53" font-size="21">W12</text>
<text x="266.82" y="102.25" font-size="21">W17</text>
<text x="283.32" y="199.93" font-size="21">W15</text>
<text x="403.62" y="203.00" font-size="21">W4</text>
<text x="323.48" y="228.93" font-size="21">D2</text>
<text x="301.82" y="245.55" font-size="21">H1</text>
<text x="293.00" y="267.95" font-size="21">W6</text>
<text x="395.67" y="322.77" font-size="21">J</text>
<text x="295.65" y="368.00" font-size="21">S</text>
<text x="265.73" y="334.88" font-size="21">H12</text>
<text x="308.83" y="423.10" font-size="21">D1</text>
<text x="597.53" y="261.30" font-size="21">X3</text>
<text x="606.20" y="320.00" font-size="21">C3</text>
<text x="573.17" y="337.77" font-size="21">H2</text>
<text x="110.75" y="506.23" font-size="21">U</text>
<text x="152.27" y="509.30" font-size="21">N</text>
<text x="129.40" y="563.50" font-size="21">C7</text>
</g>
<text x="510.4" y="461.2" font-size="21">ρ</text><text x="521.0" y="467.3" font-size="17">J</text>
<g stroke="#000" stroke-width="1.6" fill="none" stroke-linecap="square">
<rect x="97.8" y="1.8" width="572.2" height="571.4000000000001"/>
<path d="M97.80,573.2v-4.2M97.80,1.8v4.2M121.63,573.2v-4.2M121.63,1.8v4.2M140.11,573.2v-4.2M140.11,1.8v4.2M155.22,573.2v-4.2M155.22,1.8v4.2M167.99,573.2v-4.2M167.99,1.8v4.2M179.05,573.2v-4.2M179.05,1.8v4.2M188.80,573.2v-4.2M188.80,1.8v4.2M197.53,573.2v-8.4M197.53,1.8v8.4M254.95,573.2v-4.2M254.95,1.8v4.2M288.53,573.2v-4.2M288.53,1.8v4.2M312.36,573.2v-4.2M312.36,1.8v4.2M330.85,573.2v-4.2M330.85,1.8v4.2M345.95,573.2v-4.2M345.95,1.8v4.2M358.72,573.2v-4.2M358.72,1.8v4.2M369.78,573.2v-4.2M369.78,1.8v4.2M379.54,573.2v-4.2M379.54,1.8v4.2M388.26,573.2v-8.4M388.26,1.8v8.4M445.68,573.2v-4.2M445.68,1.8v4.2M479.27,573.2v-4.2M479.27,1.8v4.2M503.10,573.2v-4.2M503.10,1.8v4.2M521.58,573.2v-4.2M521.58,1.8v4.2M536.68,573.2v-4.2M536.68,1.8v4.2M549.45,573.2v-4.2M549.45,1.8v4.2M560.51,573.2v-4.2M560.51,1.8v4.2M570.27,573.2v-4.2M570.27,1.8v4.2M579.00,573.2v-8.4M579.00,1.8v8.4M636.41,573.2v-4.2M636.41,1.8v4.2M670.00,573.2v-4.2M670.00,1.8v4.2M97.8,573.20h-4.2M670.0,573.20h4.2M97.8,544.63h-8.2M670.0,544.63h8.2M97.8,516.06h-4.2M670.0,516.06h4.2M97.8,487.49h-8.2M670.0,487.49h8.2M97.8,458.92h-4.2M670.0,458.92h4.2M97.8,430.35h-8.2M670.0,430.35h8.2M97.8,401.78h-4.2M670.0,401.78h4.2M97.8,373.21h-8.2M670.0,373.21h8.2M97.8,344.64h-4.2M670.0,344.64h4.2M97.8,316.07h-8.2M670.0,316.07h8.2M97.8,287.50h-4.2M670.0,287.50h4.2M97.8,258.93h-8.2M670.0,258.93h8.2M97.8,230.36h-4.2M670.0,230.36h4.2M97.8,201.79h-8.2M670.0,201.79h8.2M97.8,173.22h-4.2M670.0,173.22h4.2M97.8,144.65h-8.2M670.0,144.65h8.2M97.8,116.08h-4.2M670.0,116.08h4.2M97.8,87.51h-8.2M670.0,87.51h8.2M97.8,58.94h-4.2M670.0,58.94h4.2M97.8,30.37h-8.2M670.0,30.37h8.2M97.8,1.80h-4.2M670.0,1.80h4.2" stroke-linecap="butt"/>
</g>
<g fill="#000">
<text x="42.85" y="553.03" font-size="23.2">0.2</text>
<text x="42.35" y="495.89" font-size="23.2">0.4</text>
<text x="42.60" y="438.75" font-size="23.2">0.6</text>
<text x="42.60" y="381.61" font-size="23.2">0.8</text>
<text x="62.35" y="324.47" font-size="23.2">1</text>
<text x="42.85" y="267.45" font-size="23.2">1.2</text>
<text x="42.35" y="210.19" font-size="23.2">1.4</text>
<text x="42.60" y="153.05" font-size="23.2">1.6</text>
<text x="42.60" y="95.91" font-size="23.2">1.8</text>
<text x="62.35" y="38.90" font-size="23.2">2</text>
<text x="182.85" y="604.62" font-size="23.5">0.1</text>
<text x="383.12" y="604.58" font-size="23.5">1</text>
<text x="569.00" y="604.42" font-size="23.5">10</text>
</g>
<text x="325.1" y="637.3" font-size="23.5" letter-spacing="0.64">Mass/M</text><text x="410.2" y="644.8" font-size="19">Jup</text>
<g transform="translate(20.2,352.4) rotate(-90)"><text x="0" y="0" font-size="23.5" letter-spacing="0.26">Radius/R</text><text x="98.2" y="7.7" font-size="19">Jup</text></g>
</svg>
</body></html>
